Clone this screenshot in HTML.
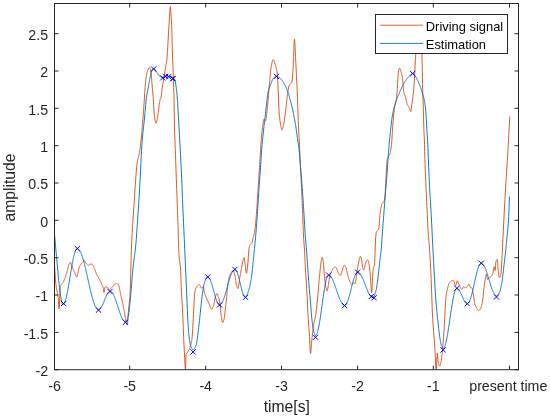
<!DOCTYPE html><html><head><meta charset="utf-8"><title>plot</title><style>html,body{margin:0;padding:0;background:#fff}svg{display:block}text{font-family:"Liberation Sans",sans-serif;fill:#262626}</style></head><body>
<svg width="550" height="418" viewBox="0 0 550 418">
<rect width="550" height="418" fill="#fff"/>
<defs><clipPath id="c"><rect x="54.5" y="3.5" width="464.0" height="366.2"/></clipPath></defs>
<g clip-path="url(#c)" fill="none" stroke-linejoin="round" stroke-linecap="butt">
<path stroke="#d95319" stroke-width="0.95" d="M54.50 264.00L54.70 267.43L54.90 270.76L55.10 273.93L55.30 276.90L55.50 279.62L55.70 282.04L55.90 284.11L56.00 285.00L56.10 285.81L56.30 287.23L56.50 288.45L56.70 289.52L56.90 290.49L57.10 291.40L57.30 292.30L57.50 293.26L57.70 294.31L57.90 295.51L58.10 296.91L58.20 297.70L58.30 298.72L58.50 301.62L58.70 304.87L58.90 307.51L59.10 308.60L59.10 308.60L59.30 306.90L59.50 302.87L59.70 298.13L59.80 296.00L59.90 293.69L60.10 288.57L60.25 286.50L60.30 286.32L60.50 285.74L60.70 285.36L60.90 285.08L61.10 284.84L61.20 284.70L61.30 284.56L61.50 284.30L61.70 284.07L61.90 283.86L62.10 283.66L62.30 283.46L62.50 283.25L62.70 283.01L62.90 282.75L63.00 282.60L63.10 282.44L63.30 282.10L63.50 281.71L63.70 281.30L63.90 280.86L64.10 280.39L64.30 279.90L64.50 279.39L64.70 278.87L64.90 278.34L65.10 277.80L65.10 277.80L65.30 277.23L65.50 276.63L65.70 275.99L65.90 275.32L66.10 274.63L66.30 273.93L66.50 273.22L66.70 272.52L66.90 271.82L67.10 271.13L67.20 270.80L67.30 270.46L67.50 269.76L67.70 269.04L67.90 268.30L68.10 267.56L68.30 266.83L68.50 266.14L68.70 265.48L68.90 264.88L69.10 264.35L69.30 263.90L69.30 263.90L69.50 263.48L69.70 263.06L69.90 262.68L70.10 262.39L70.30 262.22L70.40 262.20L70.50 262.24L70.70 262.56L70.90 263.09L71.10 263.72L71.30 264.33L71.40 264.60L71.50 264.85L71.70 265.37L71.90 265.89L72.10 266.42L72.30 266.95L72.50 267.47L72.70 267.98L72.75 268.10L72.90 268.47L73.10 268.96L73.30 269.45L73.50 269.93L73.70 270.40L73.90 270.87L74.10 271.34L74.30 271.79L74.50 272.24L74.70 272.68L74.80 272.90L74.90 273.12L75.10 273.61L75.30 274.13L75.50 274.66L75.70 275.19L75.90 275.69L76.10 276.14L76.30 276.53L76.50 276.83L76.70 277.03L76.90 277.10L76.90 277.10L77.10 276.87L77.30 276.26L77.50 275.42L77.70 274.49L77.90 273.60L77.90 273.60L78.10 272.66L78.30 271.56L78.50 270.41L78.70 269.33L78.90 268.44L79.00 268.10L79.10 267.81L79.30 267.26L79.50 266.75L79.70 266.29L79.90 265.86L80.10 265.47L80.30 265.11L80.50 264.77L80.70 264.46L80.90 264.17L81.10 263.90L81.10 263.90L81.30 263.65L81.50 263.43L81.70 263.22L81.90 263.04L82.10 262.86L82.30 262.69L82.50 262.51L82.70 262.33L82.90 262.13L83.10 261.92L83.20 261.80L83.30 261.66L83.50 261.32L83.70 260.93L83.90 260.57L84.10 260.30L84.30 260.20L84.30 260.20L84.50 260.33L84.70 260.65L84.90 261.08L85.10 261.52L85.25 261.80L85.30 261.88L85.50 262.22L85.70 262.57L85.90 262.92L86.10 263.25L86.30 263.54L86.50 263.80L86.60 263.90L86.70 264.00L86.90 264.19L87.10 264.38L87.30 264.56L87.50 264.73L87.70 264.89L87.90 265.03L88.10 265.14L88.30 265.23L88.50 265.28L88.70 265.30L88.70 265.30L88.90 265.25L89.10 265.10L89.30 264.90L89.50 264.66L89.70 264.42L89.90 264.19L90.10 264.02L90.30 263.91L90.40 263.90L90.50 263.90L90.70 263.93L90.90 263.97L91.10 264.03L91.30 264.11L91.50 264.20L91.70 264.30L91.90 264.42L92.10 264.54L92.20 264.60L92.30 264.67L92.50 264.87L92.70 265.13L92.90 265.44L93.10 265.78L93.30 266.14L93.50 266.51L93.60 266.70L93.70 266.89L93.90 267.32L94.10 267.79L94.30 268.29L94.50 268.81L94.70 269.34L94.90 269.85L95.00 270.10L95.10 270.35L95.30 270.86L95.50 271.37L95.70 271.88L95.90 272.39L96.10 272.89L96.30 273.37L96.40 273.60L96.50 273.83L96.70 274.27L96.90 274.71L97.10 275.13L97.30 275.55L97.50 275.94L97.70 276.31L97.75 276.40L97.90 276.66L98.10 276.98L98.30 277.27L98.50 277.57L98.70 277.86L98.90 278.17L99.10 278.50L99.10 278.50L99.30 278.85L99.50 279.22L99.70 279.60L99.90 279.99L100.10 280.40L100.30 280.82L100.50 281.25L100.50 281.25L100.70 281.70L100.90 282.18L101.10 282.67L101.30 283.18L101.50 283.69L101.70 284.20L101.90 284.70L101.90 284.70L102.10 285.17L102.30 285.60L102.50 286.02L102.70 286.46L102.90 286.95L103.10 287.52L103.30 288.20L103.30 288.20L103.50 289.41L103.70 291.02L103.90 292.21L104.00 292.40L104.10 292.20L104.30 290.92L104.50 289.27L104.70 288.20L104.70 288.20L104.90 287.75L105.10 287.37L105.30 287.07L105.50 286.87L105.70 286.80L105.70 286.80L105.90 286.81L106.10 286.84L106.30 286.90L106.50 286.97L106.70 287.05L106.90 287.15L107.10 287.26L107.30 287.38L107.50 287.50L107.50 287.50L107.70 287.71L107.90 288.05L108.10 288.45L108.30 288.87L108.50 289.24L108.70 289.50L108.90 289.60L108.90 289.60L109.10 289.58L109.30 289.51L109.50 289.41L109.70 289.29L109.90 289.15L110.10 289.01L110.25 288.90L110.30 288.86L110.50 288.69L110.70 288.49L110.90 288.26L111.10 288.03L111.30 287.80L111.50 287.59L111.60 287.50L111.70 287.41L111.90 287.25L112.10 287.10L112.30 286.96L112.50 286.82L112.70 286.66L112.90 286.49L113.00 286.40L113.10 286.30L113.30 286.06L113.50 285.79L113.70 285.51L113.90 285.24L114.10 284.99L114.30 284.78L114.40 284.70L114.50 284.62L114.70 284.47L114.90 284.32L115.10 284.18L115.30 284.05L115.50 283.92L115.70 283.82L115.90 283.73L116.10 283.66L116.30 283.62L116.50 283.60L116.50 283.60L116.70 283.61L116.90 283.62L117.10 283.65L117.30 283.69L117.50 283.74L117.70 283.80L117.90 283.87L118.10 283.95L118.20 284.00L118.30 284.09L118.50 284.48L118.70 285.10L118.90 285.86L119.10 286.68L119.30 287.50L119.30 287.50L119.50 288.37L119.70 289.36L119.90 290.43L120.10 291.53L120.30 292.59L120.40 293.10L120.50 293.59L120.70 294.58L120.90 295.56L121.10 296.52L121.30 297.45L121.40 297.90L121.50 298.34L121.70 299.18L121.90 299.98L122.10 300.77L122.30 301.57L122.50 302.40L122.70 303.27L122.75 303.50L122.90 304.22L123.10 305.24L123.30 306.30L123.50 307.38L123.70 308.46L123.90 309.50L124.00 310.00L124.10 310.50L124.30 311.56L124.50 312.69L124.70 313.87L124.90 315.07L125.10 316.28L125.30 317.49L125.50 318.67L125.70 319.80L125.90 320.87L126.10 321.85L126.30 322.74L126.50 323.50L126.70 324.13L126.90 324.60L127.10 324.90L127.30 325.00L127.30 325.00L127.50 324.20L127.70 322.10L127.90 319.17L128.10 315.87L128.30 312.66L128.50 310.00L128.50 310.00L128.70 307.95L128.90 306.17L129.10 304.52L129.30 302.86L129.50 301.05L129.70 298.96L129.90 296.46L130.00 295.00L130.10 293.18L130.30 288.06L130.50 281.44L130.70 273.89L130.90 265.99L131.10 258.32L131.30 251.47L131.50 246.00L131.50 246.00L131.70 241.69L131.90 237.82L132.10 234.29L132.30 230.97L132.50 227.75L132.70 224.50L132.70 224.50L132.90 221.26L133.10 218.11L133.30 215.05L133.50 212.05L133.70 209.09L133.90 206.15L134.10 203.22L134.30 200.27L134.50 197.30L134.50 197.30L134.70 194.24L134.90 191.10L135.10 187.94L135.30 184.82L135.50 181.79L135.70 178.91L135.90 176.24L136.00 175.00L136.10 173.80L136.30 171.40L136.50 169.07L136.70 166.88L136.90 164.89L137.10 163.18L137.30 161.80L137.30 161.80L137.50 160.71L137.70 159.80L137.90 159.01L138.10 158.31L138.30 157.64L138.50 156.98L138.70 156.26L138.90 155.45L139.10 154.50L139.10 154.50L139.30 153.42L139.50 152.25L139.70 150.98L139.90 149.64L140.10 148.21L140.30 146.71L140.50 145.14L140.70 143.50L140.90 141.80L140.90 141.80L141.10 139.99L141.30 138.04L141.50 135.95L141.70 133.75L141.90 131.46L142.10 129.11L142.30 126.70L142.50 124.25L142.70 121.80L142.70 121.80L142.90 119.29L143.10 116.69L143.30 114.00L143.50 111.25L143.70 108.46L143.90 105.64L144.10 102.82L144.30 100.00L144.30 100.00L144.50 97.01L144.70 93.80L144.90 90.56L145.10 87.50L145.30 84.81L145.50 82.70L145.50 82.70L145.70 81.00L145.90 79.42L146.10 77.95L146.30 76.60L146.50 75.38L146.70 74.28L146.90 73.32L147.10 72.49L147.30 71.80L147.30 71.80L147.50 71.18L147.70 70.58L147.90 70.00L148.10 69.45L148.30 68.95L148.50 68.51L148.70 68.13L148.90 67.83L149.10 67.62L149.30 67.51L149.40 67.50L149.50 67.53L149.70 67.73L149.90 68.11L150.10 68.64L150.30 69.30L150.50 70.06L150.70 70.90L150.90 71.80L150.90 71.80L151.10 73.05L151.30 74.87L151.50 77.11L151.70 79.62L151.90 82.26L152.10 84.86L152.30 87.30L152.30 87.30L152.50 89.60L152.70 91.91L152.90 94.28L153.10 96.73L153.20 98.00L153.30 99.36L153.50 102.40L153.70 105.67L153.90 108.95L154.10 111.99L154.30 114.56L154.50 116.40L154.50 116.40L154.70 117.79L154.90 119.12L155.10 120.35L155.30 121.42L155.50 122.29L155.70 122.92L155.90 123.26L156.00 123.30L156.10 123.26L156.30 122.97L156.50 122.41L156.70 121.64L156.90 120.68L157.10 119.58L157.30 118.38L157.50 117.11L157.70 115.81L157.90 114.53L158.10 113.29L158.20 112.70L158.30 112.09L158.50 110.69L158.70 109.12L158.90 107.46L159.10 105.77L159.30 104.14L159.50 102.65L159.70 101.37L159.90 100.37L160.00 100.00L160.10 99.71L160.30 99.28L160.50 98.93L160.70 98.54L160.90 98.00L160.90 98.00L161.10 97.09L161.30 95.76L161.50 94.14L161.70 92.36L161.90 90.54L162.10 88.81L162.30 87.30L162.30 87.30L162.50 85.97L162.70 84.70L162.90 83.47L163.10 82.27L163.30 81.10L163.50 79.94L163.70 78.77L163.90 77.60L164.10 76.40L164.10 76.40L164.30 75.19L164.50 73.98L164.70 72.77L164.90 71.56L165.10 70.35L165.30 69.14L165.50 67.93L165.70 66.72L165.90 65.50L165.90 65.50L166.10 64.36L166.30 63.28L166.50 62.13L166.70 60.79L166.80 60.00L166.90 59.07L167.10 56.73L167.30 54.01L167.40 52.60L167.50 51.14L167.70 47.93L167.90 44.45L168.10 40.79L168.30 37.04L168.50 33.31L168.70 29.70L168.90 26.30L168.90 26.30L169.10 23.06L169.30 19.88L169.50 16.84L169.70 14.00L169.70 14.00L169.90 10.87L170.10 7.91L170.30 6.60L170.30 6.60L170.50 7.69L170.70 10.20L170.90 13.00L170.90 13.00L171.10 15.66L171.30 18.63L171.50 22.11L171.70 26.30L171.70 26.30L171.90 32.48L172.10 40.52L172.30 48.57L172.40 52.00L172.50 55.01L172.70 60.48L172.90 65.60L173.10 70.82L173.20 73.60L173.30 76.39L173.50 81.80L173.70 87.49L173.90 94.13L174.00 98.00L174.10 103.02L174.30 115.96L174.50 127.00L174.50 127.00L174.70 133.90L174.90 139.48L175.10 144.36L175.30 149.16L175.50 154.50L175.50 154.50L175.70 160.57L175.90 166.88L176.10 173.07L176.20 176.00L176.30 178.81L176.50 184.20L176.70 189.42L176.90 194.64L177.00 197.30L177.10 199.96L177.30 205.16L177.50 210.35L177.70 215.72L177.90 221.45L178.00 224.50L178.10 227.90L178.30 235.65L178.50 243.04L178.60 246.00L178.70 248.55L178.90 253.21L179.10 256.89L179.20 258.20L179.30 259.21L179.50 260.77L179.70 261.92L179.90 262.89L180.10 263.95L180.30 265.33L180.50 267.30L180.50 267.30L180.70 271.22L180.90 277.08L181.10 283.05L181.20 285.50L181.30 287.58L181.50 291.35L181.70 294.81L181.90 298.19L182.10 301.71L182.20 303.60L182.30 305.56L182.50 309.55L182.70 313.74L182.90 318.20L182.90 318.20L183.10 323.24L183.30 328.70L183.50 334.00L183.60 336.40L183.70 338.65L183.90 342.96L184.10 347.04L184.30 350.88L184.50 354.50L184.50 354.50L184.70 358.36L184.90 362.48L185.10 366.23L185.30 368.95L185.50 370.00L185.50 370.00L185.70 364.69L185.90 356.31L186.00 354.50L186.10 354.22L186.30 353.80L186.50 353.52L186.70 353.32L186.90 353.15L187.10 352.96L187.30 352.70L187.30 352.70L187.50 352.38L187.70 352.05L187.90 351.72L188.10 351.38L188.30 351.03L188.50 350.67L188.70 350.29L188.90 349.89L189.10 349.48L189.30 349.04L189.50 348.58L189.70 348.09L189.90 347.57L190.00 347.30L190.10 347.02L190.30 346.46L190.50 345.86L190.70 345.20L190.90 344.48L191.10 343.68L191.30 342.78L191.50 341.77L191.70 340.63L191.80 340.00L191.90 339.26L192.10 337.29L192.30 334.77L192.50 331.81L192.70 328.55L192.90 325.11L193.10 321.62L193.30 318.20L193.30 318.20L193.50 314.69L193.70 310.92L193.90 306.99L194.00 305.00L194.10 302.75L194.30 297.77L194.50 294.50L194.50 294.50L194.70 293.12L194.90 291.94L195.10 290.93L195.30 290.08L195.50 289.37L195.70 288.77L195.90 288.27L196.10 287.84L196.30 287.47L196.40 287.30L196.50 287.13L196.70 286.80L196.90 286.49L197.10 286.19L197.30 285.90L197.50 285.63L197.70 285.39L197.90 285.17L198.10 284.98L198.30 284.81L198.50 284.68L198.70 284.58L198.90 284.52L199.10 284.50L199.10 284.50L199.30 284.56L199.50 284.72L199.70 284.97L199.90 285.28L200.10 285.65L200.30 286.04L200.50 286.45L200.70 286.86L200.90 287.24L201.10 287.58L201.30 287.87L201.50 288.07L201.70 288.19L201.80 288.20L201.90 288.18L202.10 288.02L202.30 287.77L202.50 287.48L202.70 287.19L202.90 286.98L203.10 286.90L203.10 286.90L203.30 287.14L203.50 287.79L203.70 288.71L203.90 289.79L204.10 290.90L204.30 291.91L204.50 292.70L204.50 292.70L204.70 293.33L204.90 293.93L205.10 294.51L205.30 295.07L205.50 295.61L205.70 296.12L205.90 296.63L206.10 297.12L206.30 297.59L206.50 298.05L206.70 298.51L206.90 298.95L207.10 299.40L207.30 299.83L207.50 300.27L207.70 300.70L207.90 301.14L208.10 301.58L208.20 301.80L208.30 302.03L208.50 302.50L208.70 303.01L208.90 303.53L209.10 304.07L209.30 304.61L209.50 305.15L209.70 305.68L209.90 306.20L210.10 306.70L210.30 307.16L210.50 307.60L210.70 307.99L210.90 308.33L211.10 308.62L211.30 308.85L211.50 309.01L211.70 309.09L211.80 309.10L211.90 309.08L212.10 308.95L212.30 308.70L212.50 308.36L212.70 307.93L212.90 307.44L213.10 306.91L213.30 306.35L213.50 305.78L213.60 305.50L213.70 305.19L213.90 304.40L214.10 303.45L214.30 302.37L214.50 301.23L214.70 300.07L214.90 298.96L215.10 297.94L215.30 297.07L215.50 296.40L215.50 296.40L215.70 295.84L215.90 295.28L216.10 294.76L216.30 294.30L216.50 293.93L216.70 293.69L216.90 293.60L216.90 293.60L217.10 293.71L217.30 294.00L217.50 294.43L217.70 294.95L217.90 295.53L218.10 296.12L218.20 296.40L218.30 296.68L218.50 297.26L218.70 297.89L218.90 298.57L219.10 299.31L219.30 300.12L219.50 301.00L219.70 301.97L219.90 303.03L220.00 303.60L220.10 304.27L220.30 306.03L220.50 308.19L220.70 310.53L220.90 312.82L221.10 314.85L221.30 316.40L221.30 316.40L221.50 317.66L221.70 318.92L221.90 320.10L222.10 321.13L222.30 321.96L222.50 322.50L222.70 322.70L222.70 322.70L222.90 322.58L223.10 322.26L223.30 321.76L223.50 321.12L223.70 320.36L223.90 319.53L224.10 318.65L224.20 318.20L224.30 317.69L224.50 316.37L224.70 314.73L224.90 312.89L225.10 310.96L225.30 309.06L225.50 307.30L225.50 307.30L225.70 305.71L225.90 304.17L226.10 302.60L226.30 300.91L226.40 300.00L226.50 298.99L226.70 296.63L226.90 294.00L227.10 291.31L227.30 288.77L227.50 286.60L227.70 285.00L227.70 285.00L227.90 283.80L228.10 282.67L228.30 281.62L228.50 280.63L228.70 279.72L228.90 278.86L229.10 278.07L229.30 277.35L229.50 276.67L229.70 276.06L229.90 275.49L230.10 274.98L230.30 274.52L230.50 274.10L230.50 274.10L230.70 273.70L230.90 273.31L231.10 272.93L231.30 272.55L231.50 272.20L231.70 271.87L231.90 271.56L232.10 271.28L232.30 271.04L232.50 270.83L232.70 270.68L232.90 270.56L233.10 270.51L233.20 270.50L233.30 270.53L233.50 270.73L233.70 271.12L233.90 271.65L234.10 272.30L234.30 273.04L234.50 273.84L234.70 274.66L234.90 275.49L235.00 275.90L235.10 276.34L235.30 277.45L235.50 278.78L235.70 280.25L235.90 281.76L236.10 283.23L236.30 284.58L236.50 285.71L236.70 286.53L236.80 286.80L236.90 287.02L237.10 287.43L237.30 287.81L237.50 288.13L237.70 288.38L237.90 288.54L238.10 288.60L238.10 288.60L238.30 288.25L238.50 287.30L238.70 285.92L238.90 284.28L239.10 282.55L239.30 280.90L239.50 279.50L239.50 279.50L239.70 278.27L239.90 277.05L240.10 275.83L240.30 274.62L240.50 273.44L240.70 272.29L240.90 271.17L241.10 270.10L241.30 269.09L241.40 268.60L241.50 268.11L241.70 267.09L241.90 266.03L242.10 264.94L242.30 263.86L242.50 262.80L242.70 261.78L242.90 260.83L243.10 259.96L243.30 259.21L243.50 258.58L243.70 258.11L243.90 257.80L244.10 257.70L244.10 257.70L244.30 258.11L244.50 259.21L244.70 260.78L244.90 262.60L245.10 264.44L245.30 266.11L245.40 266.80L245.50 267.47L245.70 268.97L245.90 270.51L246.10 271.86L246.30 272.83L246.50 273.20L246.50 273.20L246.70 272.84L246.90 271.86L247.10 270.42L247.30 268.70L247.50 266.83L247.70 265.00L247.70 265.00L247.90 262.82L248.10 260.02L248.30 256.94L248.50 253.90L248.70 251.22L248.90 249.23L249.00 248.60L249.10 248.12L249.30 247.24L249.50 246.46L249.70 245.78L249.90 245.20L250.10 244.73L250.30 244.36L250.50 244.10L250.50 244.10L250.70 243.92L250.90 243.80L251.10 243.71L251.30 243.62L251.50 243.52L251.70 243.39L251.90 243.20L251.90 243.20L252.10 242.80L252.30 242.10L252.50 241.20L252.70 240.18L252.90 239.13L253.10 238.14L253.20 237.70L253.30 237.29L253.50 236.51L253.70 235.76L253.90 235.00L254.10 234.19L254.30 233.30L254.50 232.30L254.50 232.30L254.70 231.14L254.90 229.82L255.10 228.35L255.30 226.74L255.50 225.00L255.50 225.00L255.70 223.03L255.90 220.79L256.10 218.35L256.30 215.80L256.40 214.50L256.50 213.18L256.70 210.41L256.90 207.50L257.10 204.49L257.30 201.39L257.50 198.24L257.70 195.08L257.90 191.93L258.10 188.83L258.20 187.30L258.30 185.79L258.50 182.79L258.70 179.80L258.90 176.82L259.10 173.82L259.30 170.79L259.50 167.72L259.70 164.59L259.80 163.00L259.90 161.35L260.10 157.85L260.30 154.22L260.50 150.66L260.70 147.36L260.90 144.50L260.90 144.50L261.10 141.99L261.30 139.60L261.50 137.33L261.70 135.18L261.90 133.16L262.10 131.27L262.30 129.51L262.50 127.89L262.70 126.40L262.70 126.40L262.90 124.92L263.10 123.39L263.30 121.94L263.50 120.67L263.70 119.71L263.90 119.17L264.00 119.10L264.10 119.12L264.30 119.29L264.50 119.57L264.70 119.91L264.90 120.27L265.10 120.58L265.30 120.81L265.50 120.90L265.50 120.90L265.70 120.59L265.90 119.73L266.10 118.47L266.30 116.91L266.50 115.20L266.70 113.45L266.90 111.80L266.90 111.80L267.10 110.16L267.30 108.37L267.50 106.46L267.70 104.44L267.90 102.35L268.10 100.19L268.20 99.10L268.30 97.96L268.50 95.52L268.70 92.96L268.90 90.41L269.10 88.00L269.10 88.00L269.30 85.67L269.50 83.27L269.70 80.88L269.90 78.52L270.10 76.25L270.30 74.13L270.50 72.20L270.70 70.50L270.90 69.10L270.90 69.10L271.10 67.85L271.30 66.61L271.50 65.40L271.70 64.23L271.90 63.15L272.10 62.17L272.30 61.31L272.50 60.60L272.70 60.06L272.90 59.72L273.10 59.60L273.10 59.60L273.30 59.66L273.50 59.85L273.70 60.14L273.90 60.53L274.10 61.00L274.30 61.54L274.50 62.14L274.70 62.78L274.90 63.45L275.10 64.13L275.30 64.82L275.50 65.50L275.50 65.50L275.70 66.17L275.90 66.87L276.10 67.62L276.30 68.44L276.50 69.35L276.70 70.39L276.90 71.58L277.10 72.94L277.30 74.50L277.30 74.50L277.50 76.82L277.70 80.21L277.90 84.29L278.10 88.68L278.30 93.00L278.30 93.00L278.50 97.79L278.70 103.19L278.90 108.20L279.10 111.80L279.10 111.80L279.30 114.23L279.50 116.40L279.70 118.33L279.90 120.04L280.10 121.58L280.30 122.95L280.50 124.20L280.70 125.34L280.90 126.40L280.90 126.40L281.10 127.48L281.30 128.54L281.50 129.41L281.70 129.93L281.80 130.00L281.90 129.97L282.10 129.77L282.30 129.38L282.50 128.85L282.70 128.19L282.90 127.44L283.10 126.63L283.30 125.78L283.50 124.92L283.60 124.50L283.70 124.06L283.90 123.07L284.10 121.94L284.30 120.69L284.50 119.35L284.70 117.92L284.90 116.44L285.10 114.91L285.30 113.36L285.50 111.80L285.50 111.80L285.70 110.16L285.90 108.37L286.10 106.49L286.30 104.57L286.50 102.66L286.70 100.82L286.90 99.10L286.90 99.10L287.10 97.46L287.30 95.87L287.50 94.36L287.70 93.00L287.70 93.00L287.90 91.70L288.10 90.38L288.30 89.11L288.50 87.94L288.70 86.91L288.90 86.08L289.10 85.50L289.10 85.50L289.30 85.10L289.50 84.76L289.70 84.46L289.90 84.21L290.10 83.99L290.30 83.79L290.50 83.60L290.50 83.60L290.70 83.45L290.90 83.34L291.10 83.25L291.30 83.15L291.50 83.01L291.70 82.82L291.80 82.70L291.90 82.44L292.10 81.23L292.30 79.33L292.50 77.01L292.70 74.50L292.70 74.50L292.90 71.38L293.10 67.35L293.30 62.88L293.50 58.45L293.60 56.40L293.70 54.25L293.90 49.29L294.10 44.37L294.30 40.60L294.50 39.10L294.50 39.10L294.70 40.30L294.90 43.40L295.10 47.63L295.30 52.22L295.50 56.40L295.50 56.40L295.70 60.23L295.90 64.24L296.10 68.34L296.30 72.46L296.40 74.50L296.50 76.49L296.70 80.34L296.90 84.21L297.10 88.35L297.30 93.00L297.30 93.00L297.50 98.80L297.70 105.22L297.80 108.20L297.90 111.01L298.10 116.54L298.30 121.74L298.50 126.40L298.50 126.40L298.70 130.39L298.90 133.92L299.10 137.26L299.30 140.70L299.50 144.50L299.50 144.50L299.70 148.87L299.90 153.62L300.10 158.43L300.30 163.00L300.30 163.00L300.50 167.22L300.70 171.25L300.90 175.19L301.10 179.13L301.30 183.13L301.50 187.30L301.50 187.30L301.70 191.60L301.90 195.96L302.10 200.40L302.30 204.95L302.50 209.64L302.70 214.50L302.70 214.50L302.90 219.94L303.10 225.86L303.30 231.47L303.50 236.00L303.50 236.00L303.70 239.31L303.90 242.03L304.10 244.49L304.30 247.03L304.50 250.00L304.50 250.00L304.70 253.63L304.90 257.74L305.10 262.03L305.30 266.21L305.50 270.00L305.50 270.00L305.70 273.31L305.90 276.36L306.10 279.31L306.30 282.30L306.50 285.50L306.50 285.50L306.70 288.93L306.90 292.52L307.10 296.21L307.30 300.00L307.30 300.00L307.50 304.03L307.70 308.29L307.90 312.52L308.10 316.44L308.20 318.20L308.30 319.82L308.50 322.80L308.70 325.54L308.90 328.15L309.10 330.74L309.30 333.46L309.50 336.40L309.50 336.40L309.70 340.17L309.90 344.69L310.10 349.03L310.30 352.31L310.50 353.60L310.50 353.60L310.70 352.97L310.90 351.31L311.10 348.95L311.30 346.22L311.50 343.47L311.70 341.01L311.80 340.00L311.90 339.09L312.10 337.29L312.30 335.52L312.50 333.81L312.70 332.15L312.90 330.54L313.10 329.01L313.30 327.54L313.50 326.16L313.60 325.50L313.70 324.87L313.90 323.69L314.10 322.60L314.30 321.59L314.50 320.62L314.70 319.68L314.90 318.75L315.10 317.80L315.30 316.81L315.50 315.75L315.70 314.61L315.90 313.37L316.00 312.70L316.10 311.99L316.30 310.45L316.50 308.77L316.70 306.97L316.90 305.08L317.10 303.11L317.30 301.09L317.50 299.05L317.70 297.00L317.70 297.00L317.90 294.87L318.10 292.61L318.30 290.25L318.50 287.83L318.70 285.41L318.90 283.01L319.10 280.68L319.30 278.46L319.50 276.40L319.50 276.40L319.70 274.39L319.90 272.35L320.10 270.30L320.30 268.30L320.50 266.39L320.70 264.61L320.90 263.00L321.10 261.60L321.30 260.46L321.40 260.00L321.50 259.57L321.70 258.74L321.90 258.01L322.10 257.50L322.30 257.30L322.30 257.30L322.50 257.63L322.70 258.51L322.90 259.73L323.10 261.11L323.20 261.80L323.30 262.56L323.50 264.48L323.70 266.81L323.90 269.35L324.10 271.91L324.30 274.33L324.50 276.40L324.50 276.40L324.70 278.26L324.90 280.11L325.10 281.90L325.30 283.57L325.50 285.06L325.70 286.33L325.90 287.30L325.90 287.30L326.10 288.11L326.30 288.89L326.50 289.60L326.70 290.19L326.90 290.63L327.10 290.87L327.20 290.90L327.30 290.82L327.50 290.24L327.70 289.24L327.90 288.00L328.10 286.70L328.30 285.50L328.30 285.50L328.50 284.33L328.70 283.04L328.90 281.70L329.10 280.40L329.30 279.21L329.50 278.20L329.50 278.20L329.70 277.34L329.90 276.53L330.10 275.77L330.30 275.05L330.50 274.38L330.70 273.74L330.90 273.15L331.10 272.58L331.30 272.05L331.40 271.80L331.50 271.55L331.70 271.05L331.90 270.56L332.10 270.09L332.30 269.65L332.50 269.24L332.70 268.87L332.90 268.56L333.10 268.30L333.20 268.20L333.30 268.11L333.50 267.93L333.70 267.75L333.90 267.59L334.10 267.43L334.30 267.29L334.50 267.17L334.70 267.07L334.90 266.99L335.10 266.93L335.30 266.90L335.40 266.90L335.50 266.92L335.70 267.06L335.90 267.32L336.10 267.67L336.30 268.06L336.50 268.49L336.70 268.90L336.80 269.10L336.90 269.30L337.10 269.77L337.30 270.30L337.50 270.87L337.70 271.46L337.90 272.03L338.10 272.57L338.30 273.05L338.50 273.44L338.60 273.60L338.70 273.74L338.90 274.03L339.10 274.31L339.30 274.58L339.50 274.83L339.70 275.05L339.90 275.24L340.10 275.38L340.30 275.47L340.50 275.50L340.50 275.50L340.70 275.36L340.90 274.99L341.10 274.45L341.30 273.79L341.50 273.09L341.70 272.41L341.90 271.80L341.90 271.80L342.10 271.20L342.30 270.52L342.50 269.78L342.70 269.02L342.90 268.26L343.10 267.54L343.30 266.89L343.50 266.32L343.70 265.89L343.90 265.60L344.10 265.50L344.10 265.50L344.30 265.52L344.50 265.59L344.70 265.69L344.90 265.83L345.10 266.00L345.30 266.19L345.50 266.40L345.50 266.40L345.70 266.75L345.90 267.31L346.10 268.03L346.30 268.84L346.50 269.69L346.70 270.52L346.80 270.90L346.90 271.28L347.10 272.09L347.30 272.95L347.50 273.83L347.70 274.71L347.90 275.58L348.10 276.41L348.30 277.19L348.50 277.89L348.60 278.20L348.70 278.50L348.90 279.08L349.10 279.65L349.30 280.19L349.50 280.71L349.70 281.19L349.90 281.63L350.10 282.04L350.30 282.39L350.50 282.70L350.50 282.70L350.70 282.98L350.90 283.27L351.10 283.54L351.30 283.80L351.50 284.03L351.70 284.22L351.90 284.37L352.10 284.47L352.30 284.50L352.30 284.50L352.50 284.37L352.70 284.03L352.90 283.60L353.10 283.17L353.30 282.83L353.50 282.70L353.50 282.70L353.70 282.74L353.90 282.86L354.10 283.02L354.30 283.19L354.50 283.37L354.70 283.51L354.90 283.59L355.00 283.60L355.10 283.55L355.30 283.14L355.50 282.39L355.70 281.39L355.90 280.21L356.10 278.94L356.30 277.64L356.50 276.40L356.50 276.40L356.70 275.07L356.90 273.52L357.10 271.86L357.30 270.19L357.50 268.64L357.70 267.30L357.70 267.30L357.90 266.13L358.10 265.01L358.30 263.94L358.50 262.94L358.70 262.01L358.90 261.15L359.10 260.36L359.20 260.00L359.30 259.64L359.50 258.89L359.70 258.15L359.90 257.47L360.10 256.91L360.30 256.54L360.50 256.40L360.50 256.40L360.70 256.54L360.90 256.94L361.10 257.53L361.30 258.27L361.50 259.11L361.70 260.00L361.70 260.00L361.90 261.33L362.10 263.22L362.30 265.19L362.50 266.79L362.60 267.30L362.70 267.68L362.90 268.40L363.10 269.04L363.30 269.54L363.50 269.88L363.70 270.00L363.70 270.00L363.90 269.80L364.10 269.26L364.30 268.49L364.50 267.60L364.70 266.69L364.90 265.85L365.00 265.50L365.10 265.17L365.30 264.45L365.50 263.71L365.70 262.99L365.90 262.30L366.10 261.71L366.30 261.23L366.50 260.90L366.50 260.90L366.70 260.67L366.90 260.46L367.10 260.27L367.30 260.13L367.50 260.03L367.70 260.00L367.70 260.00L367.90 260.12L368.10 260.45L368.30 260.96L368.50 261.61L368.70 262.36L368.90 263.18L369.00 263.60L369.10 264.09L369.30 265.39L369.50 267.04L369.70 268.92L369.90 270.90L369.90 270.90L370.10 273.17L370.30 275.84L370.50 278.72L370.70 281.61L370.90 284.29L371.00 285.50L371.10 286.74L371.30 289.46L371.50 291.74L371.70 292.70L371.70 292.70L371.90 291.09L372.10 287.18L372.30 282.36L372.50 277.98L372.60 276.40L372.70 275.09L372.90 272.52L373.10 270.20L373.30 268.37L373.50 267.30L373.50 267.30L373.70 266.83L373.90 266.57L374.10 266.37L374.30 266.06L374.50 265.50L374.50 265.50L374.70 262.56L374.90 257.19L375.00 254.50L375.10 251.62L375.30 244.95L375.50 240.00L375.50 240.00L375.70 237.28L375.90 235.01L376.10 233.27L376.30 232.12L376.40 231.80L376.50 231.58L376.70 231.22L376.90 230.95L377.10 230.75L377.30 230.59L377.50 230.47L377.70 230.35L377.90 230.21L378.10 230.04L378.30 229.81L378.50 229.50L378.70 229.10L378.70 229.10L378.90 228.04L379.10 226.01L379.30 223.37L379.50 220.48L379.70 217.70L379.90 215.37L380.00 214.50L380.10 213.75L380.30 212.29L380.50 210.91L380.70 209.60L380.90 208.39L381.10 207.30L381.30 206.32L381.50 205.48L381.70 204.79L381.80 204.50L381.90 204.25L382.10 203.81L382.30 203.46L382.50 203.16L382.70 202.92L382.90 202.70L383.10 202.50L383.30 202.29L383.50 202.06L383.70 201.79L383.90 201.47L384.10 201.07L384.30 200.59L384.50 200.00L384.50 200.00L384.70 198.84L384.90 196.79L385.10 194.03L385.30 190.77L385.50 187.20L385.70 183.52L385.90 179.91L386.00 178.20L386.10 176.39L386.30 172.19L386.50 167.89L386.70 164.29L386.80 163.00L386.90 161.97L387.10 160.23L387.30 159.10L387.30 159.10L387.50 158.42L387.70 157.85L387.90 157.38L388.10 156.99L388.30 156.66L388.50 156.37L388.70 156.11L388.90 155.84L389.10 155.56L389.30 155.25L389.50 154.88L389.70 154.44L389.90 153.91L390.00 153.60L390.10 153.26L390.30 152.46L390.50 151.51L390.70 150.40L390.90 149.14L391.10 147.74L391.30 146.19L391.50 144.50L391.50 144.50L391.70 142.28L391.90 139.33L392.10 135.97L392.30 132.49L392.50 129.20L392.70 126.40L392.70 126.40L392.90 123.97L393.10 121.59L393.30 119.28L393.50 117.07L393.70 114.98L393.90 113.02L394.10 111.23L394.30 109.61L394.50 108.20L394.50 108.20L394.70 107.01L394.90 106.01L395.10 105.14L395.30 104.36L395.50 103.61L395.70 102.83L395.90 101.96L396.10 100.97L396.30 99.78L396.40 99.10L396.50 98.31L396.70 96.34L396.90 93.97L397.10 91.35L397.20 90.00L397.30 88.52L397.50 85.20L397.60 83.60L397.70 82.01L397.90 78.58L398.10 75.23L398.30 72.50L398.50 70.90L398.50 70.90L398.70 70.09L398.90 69.39L399.10 68.84L399.30 68.44L399.50 68.23L399.60 68.20L399.70 68.23L399.90 68.42L400.10 68.77L400.30 69.26L400.50 69.85L400.70 70.52L400.90 71.24L401.10 71.98L401.30 72.70L401.30 72.70L401.50 73.44L401.70 74.26L401.90 75.16L402.10 76.17L402.30 77.31L402.50 78.58L402.70 80.00L402.70 80.00L402.90 82.11L403.10 84.96L403.30 87.90L403.50 90.25L403.60 91.00L403.70 91.53L403.90 92.47L404.10 93.25L404.30 93.91L404.50 94.48L404.70 95.01L404.90 95.52L405.10 96.05L405.30 96.63L405.50 97.30L405.50 97.30L405.70 98.08L405.90 98.93L406.10 99.84L406.30 100.76L406.50 101.66L406.70 102.52L406.90 103.30L407.10 103.97L407.30 104.50L407.30 104.50L407.50 104.91L407.70 105.27L407.90 105.57L408.10 105.85L408.30 106.11L408.50 106.37L408.70 106.65L408.90 106.95L409.10 107.30L409.10 107.30L409.30 107.74L409.50 108.28L409.70 108.89L409.90 109.51L410.10 110.12L410.30 110.66L410.50 111.10L410.70 111.39L410.90 111.50L410.90 111.50L411.10 110.87L411.30 109.31L411.50 107.30L411.70 105.32L411.80 104.50L411.90 103.78L412.10 102.43L412.30 101.14L412.50 99.86L412.70 98.53L412.90 97.10L413.10 95.50L413.10 95.50L413.30 93.75L413.50 91.86L413.70 89.80L413.90 87.52L414.10 84.98L414.20 83.60L414.30 82.04L414.50 78.24L414.70 73.91L414.90 69.51L415.10 65.50L415.10 65.50L415.30 61.93L415.50 58.53L415.70 55.23L415.80 53.60L415.90 51.93L416.10 48.42L416.30 44.86L416.50 41.45L416.70 38.42L416.90 35.95L417.00 35.00L417.10 34.16L417.30 32.50L417.50 30.91L417.70 29.43L417.90 28.10L418.10 26.96L418.30 26.04L418.50 25.39L418.70 25.04L418.80 25.00L418.90 25.04L419.10 25.39L419.30 26.04L419.50 26.96L419.70 28.10L419.90 29.43L420.10 30.91L420.30 32.50L420.50 34.16L420.60 35.00L420.70 35.91L420.90 38.12L421.10 40.82L421.30 43.97L421.50 47.54L421.70 51.49L421.80 53.60L421.90 55.91L422.10 61.77L422.20 65.50L422.30 71.08L422.50 83.60L422.50 83.60L422.70 90.11L422.80 93.00L422.90 96.03L423.10 101.95L423.30 108.20L423.30 108.20L423.50 115.53L423.70 123.08L423.80 126.40L423.90 129.27L424.10 134.26L424.30 139.02L424.50 144.50L424.50 144.50L424.70 151.78L424.90 159.65L425.00 163.00L425.10 165.91L425.30 171.24L425.50 176.08L425.70 180.63L425.90 185.06L426.00 187.30L426.10 189.53L426.30 193.83L426.50 197.99L426.70 202.08L426.90 206.14L427.10 210.26L427.30 214.50L427.30 214.50L427.50 219.13L427.70 223.93L427.90 228.24L428.00 230.00L428.10 231.51L428.30 234.14L428.50 236.41L428.70 238.54L428.90 240.73L429.10 243.20L429.10 243.20L429.30 245.92L429.50 248.75L429.70 251.70L429.90 254.78L430.10 258.01L430.30 261.40L430.30 261.40L430.50 264.96L430.70 268.72L430.90 272.75L431.10 277.15L431.20 279.50L431.30 282.08L431.50 287.95L431.70 294.09L431.80 297.00L431.90 299.87L432.10 305.70L432.30 311.00L432.40 313.20L432.50 315.13L432.70 318.61L432.90 321.69L433.10 324.52L433.30 327.23L433.50 329.97L433.60 331.40L433.70 332.84L433.90 335.64L434.10 338.37L434.30 341.09L434.50 343.82L434.70 346.61L434.90 349.50L434.90 349.50L435.10 352.92L435.30 356.96L435.50 361.14L435.70 364.99L435.90 368.02L436.10 369.76L436.20 370.00L436.30 369.61L436.50 366.93L436.70 362.74L436.90 358.25L437.10 354.66L437.30 353.20L437.30 353.20L437.50 354.20L437.70 356.57L437.90 359.37L438.10 361.65L438.20 362.30L438.30 362.72L438.50 363.52L438.70 364.23L438.90 364.85L439.10 365.34L439.30 365.69L439.50 365.88L439.60 365.90L439.70 365.87L439.90 365.62L440.10 365.18L440.30 364.58L440.50 363.87L440.70 363.10L440.90 362.30L440.90 362.30L441.10 361.38L441.30 360.23L441.50 358.89L441.70 357.39L441.90 355.78L442.10 354.07L442.20 353.20L442.30 352.29L442.50 350.27L442.70 348.03L442.90 345.62L443.10 343.10L443.30 340.50L443.30 340.50L443.50 337.82L443.70 335.01L443.90 332.06L444.10 328.96L444.30 325.71L444.50 322.30L444.50 322.30L444.70 318.39L444.90 313.99L445.10 309.59L445.30 305.70L445.40 304.10L445.50 302.68L445.70 300.01L445.90 297.67L446.10 295.76L446.20 295.00L446.30 294.34L446.50 293.18L446.70 292.19L446.90 291.32L447.10 290.51L447.30 289.70L447.30 289.70L447.50 288.87L447.70 288.02L447.90 287.19L448.10 286.38L448.30 285.61L448.50 284.92L448.70 284.30L448.90 283.79L449.10 283.40L449.10 283.40L449.30 283.08L449.50 282.77L449.70 282.47L449.90 282.19L450.10 281.92L450.30 281.68L450.50 281.45L450.70 281.25L450.90 281.08L451.10 280.93L451.30 280.82L451.50 280.74L451.70 280.71L451.80 280.70L451.90 280.70L452.10 280.70L452.30 280.70L452.50 280.70L452.70 280.70L452.90 280.70L453.10 280.70L453.30 280.70L453.50 280.70L453.60 280.70L453.70 280.74L453.90 281.05L454.10 281.59L454.30 282.30L454.50 283.09L454.70 283.91L454.90 284.67L455.10 285.31L455.30 285.74L455.50 285.90L455.50 285.90L455.70 285.72L455.90 285.24L456.10 284.55L456.30 283.73L456.50 282.87L456.70 282.05L456.90 281.36L457.10 280.88L457.30 280.70L457.30 280.70L457.50 280.84L457.70 281.20L457.90 281.71L458.10 282.30L458.30 282.89L458.50 283.40L458.50 283.40L458.70 283.86L458.90 284.34L459.10 284.83L459.30 285.31L459.50 285.77L459.70 286.21L459.90 286.62L460.00 286.80L460.10 286.98L460.30 287.36L460.50 287.75L460.70 288.14L460.90 288.50L461.10 288.82L461.30 289.09L461.50 289.28L461.70 289.39L461.80 289.40L461.90 289.38L462.10 289.21L462.30 288.91L462.50 288.53L462.70 288.10L462.90 287.67L463.10 287.29L463.30 286.99L463.50 286.82L463.60 286.80L463.70 286.81L463.90 286.86L464.10 286.95L464.30 287.08L464.50 287.21L464.70 287.36L464.90 287.49L465.10 287.60L465.30 287.67L465.50 287.70L465.50 287.70L465.70 287.68L465.90 287.64L466.10 287.57L466.30 287.47L466.50 287.36L466.70 287.23L466.90 287.09L467.10 286.95L467.30 286.80L467.30 286.80L467.50 286.59L467.70 286.29L467.90 285.93L468.10 285.53L468.30 285.14L468.50 284.78L468.70 284.48L468.90 284.27L469.10 284.20L469.10 284.20L469.30 284.39L469.50 284.89L469.70 285.58L469.90 286.32L470.10 287.01L470.30 287.51L470.50 287.70L470.50 287.70L470.70 287.70L470.90 287.70L471.10 287.70L471.30 287.70L471.50 287.70L471.70 287.70L471.80 287.70L471.90 287.75L472.10 288.13L472.30 288.80L472.50 289.68L472.70 290.70L472.90 291.77L473.10 292.80L473.10 292.80L473.30 293.95L473.50 295.36L473.70 296.91L473.90 298.49L474.10 299.99L474.30 301.29L474.50 302.30L474.50 302.30L474.70 303.09L474.90 303.82L475.10 304.49L475.30 305.11L475.50 305.68L475.70 306.20L475.90 306.68L476.10 307.11L476.30 307.51L476.40 307.70L476.50 307.88L476.70 308.26L476.90 308.63L477.10 308.99L477.30 309.34L477.50 309.66L477.70 309.94L477.90 310.17L478.10 310.35L478.30 310.46L478.50 310.50L478.50 310.50L478.70 310.47L478.90 310.40L479.10 310.27L479.30 310.11L479.50 309.90L479.70 309.67L479.90 309.39L480.10 309.10L480.30 308.77L480.50 308.43L480.70 308.07L480.90 307.70L480.90 307.70L481.10 307.26L481.30 306.69L481.50 306.01L481.70 305.21L481.90 304.33L482.10 303.35L482.30 302.30L482.50 301.18L482.70 300.00L482.70 300.00L482.90 298.55L483.10 296.71L483.30 294.63L483.50 292.46L483.70 290.35L483.90 288.43L484.00 287.60L484.10 286.82L484.30 285.30L484.50 283.83L484.70 282.43L484.90 281.11L485.10 279.87L485.30 278.73L485.50 277.70L485.50 277.70L485.70 276.66L485.90 275.60L486.10 274.71L486.30 274.18L486.40 274.10L486.50 274.21L486.70 274.94L486.90 276.13L487.10 277.47L487.30 278.66L487.50 279.39L487.60 279.50L487.70 279.48L487.90 279.35L488.10 279.11L488.30 278.81L488.50 278.49L488.70 278.17L488.90 277.89L489.10 277.70L489.10 277.70L489.30 277.57L489.50 277.47L489.70 277.38L489.90 277.30L490.10 277.22L490.30 277.14L490.50 277.05L490.70 276.94L490.90 276.80L490.90 276.80L491.10 276.63L491.30 276.44L491.50 276.21L491.70 275.95L491.90 275.65L492.10 275.32L492.30 274.95L492.50 274.55L492.70 274.10L492.70 274.10L492.90 273.40L493.10 272.32L493.30 271.03L493.50 269.68L493.70 268.43L493.90 267.45L494.10 266.88L494.20 266.80L494.30 266.93L494.50 267.76L494.70 268.96L494.90 270.03L495.10 270.50L495.10 270.50L495.30 269.44L495.50 266.97L495.70 264.12L495.90 261.92L496.00 261.40L496.10 261.14L496.30 260.67L496.50 260.27L496.70 259.94L496.90 259.70L497.10 259.55L497.30 259.50L497.30 259.50L497.50 260.62L497.70 263.32L497.90 266.61L498.10 269.51L498.20 270.50L498.30 271.29L498.50 272.86L498.70 274.35L498.90 275.68L499.10 276.74L499.30 277.44L499.50 277.70L499.50 277.70L499.70 277.61L499.90 277.36L500.10 276.96L500.30 276.41L500.50 275.75L500.70 274.97L500.90 274.10L500.90 274.10L501.10 272.52L501.30 269.88L501.50 266.60L501.70 263.10L501.80 261.40L501.90 259.66L502.10 255.81L502.30 251.64L502.50 247.37L502.70 243.20L502.70 243.20L502.90 239.14L503.10 235.08L503.30 231.02L503.50 227.00L503.60 225.00L503.70 223.01L503.90 218.99L504.10 214.97L504.30 210.98L504.50 207.05L504.70 203.21L504.90 199.50L505.00 197.70L505.10 195.94L505.30 192.53L505.50 189.22L505.70 186.00L505.90 182.82L506.10 179.67L506.30 176.51L506.50 173.32L506.60 171.70L506.70 170.08L506.90 166.86L507.10 163.65L507.30 160.45L507.50 157.23L507.70 153.98L507.90 150.68L508.10 147.31L508.20 145.60L508.30 143.87L508.50 140.36L508.70 136.80L508.90 133.19L509.10 129.52L509.30 125.81L509.50 122.04L509.70 118.23L509.80 116.30"/>
<path stroke="#0072bd" stroke-width="0.95" d="M54.50 234.10L54.70 236.40L54.90 238.69L55.10 240.96L55.30 243.22L55.50 245.48L55.70 247.72L55.90 249.94L56.10 252.16L56.30 254.37L56.50 256.56L56.70 258.75L56.90 260.92L57.00 262.00L57.10 263.09L57.30 265.28L57.50 267.49L57.70 269.70L57.90 271.89L58.10 274.05L58.30 276.17L58.50 278.23L58.70 280.21L58.90 282.10L59.00 283.00L59.10 283.89L59.30 285.68L59.50 287.45L59.70 289.18L59.90 290.86L60.10 292.46L60.30 293.97L60.50 295.35L60.70 296.61L60.90 297.70L60.90 297.70L61.10 298.73L61.30 299.77L61.50 300.79L61.70 301.77L61.90 302.66L62.10 303.44L62.30 304.07L62.50 304.53L62.70 304.77L62.80 304.80L62.90 304.79L63.10 304.72L63.30 304.58L63.50 304.39L63.70 304.17L63.90 303.91L64.10 303.64L64.25 303.42L64.30 303.35L64.50 302.99L64.70 302.53L64.90 302.00L65.10 301.40L65.30 300.77L65.50 300.11L65.70 299.43L65.70 299.43L65.90 298.73L66.10 297.95L66.30 297.13L66.50 296.25L66.70 295.34L66.90 294.41L67.10 293.46L67.15 293.22L67.30 292.49L67.50 291.47L67.70 290.41L67.90 289.33L68.10 288.21L68.30 287.09L68.50 285.95L68.60 285.38L68.70 284.81L68.90 283.64L69.10 282.46L69.30 281.25L69.50 280.03L69.70 278.82L69.90 277.60L70.05 276.70L70.10 276.40L70.30 275.19L70.50 273.98L70.70 272.76L70.90 271.55L71.10 270.35L71.30 269.17L71.50 268.02L71.50 268.02L71.70 266.88L71.90 265.75L72.10 264.63L72.30 263.53L72.50 262.45L72.70 261.42L72.90 260.42L72.95 260.18L73.10 259.47L73.30 258.52L73.50 257.60L73.70 256.71L73.90 255.85L74.10 255.05L74.30 254.31L74.40 253.97L74.50 253.63L74.70 252.96L74.90 252.31L75.10 251.69L75.30 251.13L75.50 250.63L75.70 250.22L75.85 249.98L75.90 249.90L76.10 249.63L76.30 249.36L76.50 249.11L76.70 248.91L76.90 248.74L77.10 248.64L77.30 248.60L77.30 248.60L77.50 248.62L77.70 248.67L77.90 248.76L78.10 248.88L78.30 249.02L78.50 249.18L78.70 249.36L78.90 249.55L79.10 249.76L79.30 249.96L79.43 250.10L79.50 250.18L79.70 250.43L79.90 250.74L80.10 251.09L80.30 251.48L80.50 251.90L80.70 252.35L80.90 252.82L81.10 253.31L81.30 253.81L81.50 254.30L81.56 254.45L81.70 254.81L81.90 255.35L82.10 255.93L82.30 256.53L82.50 257.16L82.70 257.81L82.90 258.48L83.10 259.16L83.30 259.86L83.50 260.56L83.69 261.23L83.70 261.27L83.90 261.99L84.10 262.74L84.30 263.51L84.50 264.30L84.70 265.10L84.90 265.92L85.10 266.75L85.30 267.59L85.50 268.43L85.70 269.27L85.82 269.78L85.90 270.12L86.10 270.98L86.30 271.85L86.50 272.73L86.70 273.62L86.90 274.52L87.10 275.42L87.30 276.33L87.50 277.23L87.70 278.13L87.90 279.03L87.95 279.25L88.10 279.92L88.30 280.82L88.50 281.72L88.70 282.62L88.90 283.53L89.10 284.43L89.30 285.32L89.50 286.21L89.70 287.09L89.90 287.96L90.08 288.72L90.10 288.81L90.30 289.65L90.50 290.49L90.70 291.33L90.90 292.16L91.10 292.99L91.30 293.80L91.50 294.60L91.70 295.38L91.90 296.13L92.10 296.87L92.21 297.27L92.30 297.58L92.50 298.29L92.70 298.99L92.90 299.68L93.10 300.36L93.30 301.02L93.50 301.66L93.70 302.28L93.90 302.86L94.10 303.42L94.30 303.95L94.34 304.05L94.50 304.45L94.70 304.94L94.90 305.43L95.10 305.91L95.30 306.37L95.50 306.81L95.70 307.22L95.90 307.59L96.10 307.92L96.30 308.20L96.47 308.40L96.50 308.43L96.70 308.64L96.90 308.85L97.10 309.04L97.30 309.23L97.50 309.40L97.70 309.55L97.90 309.68L98.10 309.78L98.30 309.86L98.50 309.90L98.60 309.90L98.70 309.89L98.90 309.86L99.10 309.79L99.30 309.70L99.50 309.59L99.70 309.47L99.75 309.44L99.90 309.34L100.10 309.16L100.30 308.93L100.50 308.68L100.70 308.40L100.90 308.12L100.90 308.12L101.10 307.83L101.30 307.49L101.50 307.13L101.70 306.76L101.90 306.36L102.05 306.07L102.10 305.97L102.30 305.55L102.50 305.11L102.70 304.65L102.90 304.18L103.10 303.71L103.20 303.47L103.30 303.23L103.50 302.75L103.70 302.24L103.90 301.74L104.10 301.23L104.30 300.73L104.35 300.60L104.50 300.22L104.70 299.72L104.90 299.21L105.10 298.70L105.30 298.21L105.50 297.73L105.50 297.73L105.70 297.25L105.90 296.78L106.10 296.32L106.30 295.87L106.50 295.44L106.65 295.13L106.70 295.03L106.90 294.64L107.10 294.25L107.30 293.88L107.50 293.54L107.70 293.22L107.80 293.08L107.90 292.94L108.10 292.66L108.30 292.39L108.50 292.15L108.70 291.95L108.90 291.79L108.95 291.76L109.10 291.67L109.30 291.55L109.50 291.45L109.70 291.37L109.90 291.32L110.10 291.30L110.10 291.30L110.30 291.32L110.50 291.37L110.70 291.45L110.90 291.55L111.10 291.67L111.30 291.80L111.50 291.94L111.66 292.06L111.70 292.09L111.90 292.27L112.10 292.49L112.30 292.76L112.50 293.05L112.70 293.37L112.90 293.70L113.10 294.04L113.22 294.25L113.30 294.39L113.50 294.76L113.70 295.17L113.90 295.60L114.10 296.04L114.30 296.51L114.50 296.99L114.70 297.47L114.78 297.67L114.90 297.97L115.10 298.48L115.30 299.01L115.50 299.56L115.70 300.13L115.90 300.70L116.10 301.28L116.30 301.86L116.34 301.98L116.50 302.45L116.70 303.04L116.90 303.65L117.10 304.27L117.30 304.89L117.50 305.51L117.70 306.13L117.90 306.75L117.90 306.75L118.10 307.37L118.30 307.99L118.50 308.61L118.70 309.23L118.90 309.85L119.10 310.46L119.30 311.05L119.46 311.52L119.50 311.64L119.70 312.22L119.90 312.80L120.10 313.37L120.30 313.94L120.50 314.49L120.70 315.02L120.90 315.53L121.02 315.83L121.10 316.03L121.30 316.51L121.50 316.99L121.70 317.46L121.90 317.90L122.10 318.33L122.30 318.74L122.50 319.11L122.58 319.25L122.70 319.46L122.90 319.80L123.10 320.13L123.30 320.45L123.50 320.74L123.70 321.01L123.90 321.23L124.10 321.41L124.14 321.44L124.30 321.56L124.50 321.70L124.70 321.83L124.90 321.95L125.10 322.05L125.30 322.13L125.50 322.18L125.70 322.20L125.70 322.20L125.90 322.15L126.10 322.00L126.30 321.75L126.50 321.43L126.70 321.02L126.90 320.55L127.10 320.01L127.30 319.42L127.50 318.78L127.70 318.10L127.90 317.39L128.10 316.65L128.30 315.90L128.30 315.90L128.50 315.01L128.70 313.87L128.90 312.53L129.10 311.00L129.30 309.31L129.50 307.51L129.70 305.61L129.90 303.65L130.10 301.66L130.30 299.67L130.50 297.70L130.50 297.70L130.70 295.66L130.90 293.44L131.10 291.08L131.30 288.62L131.50 286.07L131.70 283.49L131.90 280.90L132.10 278.33L132.30 275.83L132.50 273.41L132.70 271.12L132.90 268.99L133.00 268.00L133.10 267.05L133.30 265.26L133.50 263.58L133.70 262.00L133.90 260.49L134.10 259.03L134.30 257.59L134.50 256.14L134.70 254.67L134.90 253.14L135.10 251.53L135.30 249.82L135.50 247.99L135.70 246.00L135.70 246.00L135.90 243.80L136.10 241.38L136.30 238.77L136.50 236.02L136.70 233.18L136.90 230.28L137.10 227.37L137.30 224.50L137.30 224.50L137.50 221.65L137.70 218.77L137.90 215.86L138.10 212.91L138.30 209.92L138.50 206.86L138.70 203.75L138.90 200.56L139.10 197.30L139.10 197.30L139.30 193.94L139.50 190.48L139.70 186.92L139.90 183.29L140.10 179.58L140.30 175.81L140.50 172.00L140.50 172.00L140.70 167.93L140.90 163.55L141.10 159.05L141.30 154.65L141.50 150.57L141.70 147.01L141.80 145.50L141.90 144.12L142.10 141.51L142.30 139.11L142.50 136.88L142.70 134.79L142.90 132.82L143.10 130.94L143.30 129.12L143.50 127.33L143.70 125.56L143.90 123.77L144.10 121.93L144.30 120.01L144.50 118.00L144.50 118.00L144.70 115.86L144.90 113.62L145.10 111.33L145.30 109.02L145.50 106.74L145.70 104.53L145.90 102.44L146.10 100.51L146.30 98.78L146.40 98.00L146.50 97.27L146.70 95.90L146.90 94.62L147.10 93.42L147.30 92.29L147.50 91.21L147.70 90.16L147.90 89.14L148.10 88.12L148.30 87.09L148.50 86.04L148.60 85.50L148.70 84.95L148.90 83.84L149.10 82.73L149.30 81.62L149.50 80.52L149.70 79.44L149.90 78.39L150.10 77.38L150.30 76.41L150.50 75.50L150.50 75.50L150.70 74.60L150.90 73.68L151.10 72.80L151.30 71.98L151.50 71.27L151.70 70.71L151.80 70.50L151.90 70.32L152.10 69.96L152.30 69.62L152.50 69.31L152.70 69.04L152.90 68.80L153.10 68.61L153.30 68.48L153.50 68.41L153.60 68.40L153.70 68.41L153.90 68.47L154.10 68.59L154.30 68.76L154.50 68.98L154.70 69.22L154.90 69.50L155.10 69.80L155.30 70.12L155.50 70.44L155.70 70.76L155.90 71.08L156.10 71.38L156.30 71.67L156.40 71.80L156.50 71.93L156.70 72.21L156.90 72.49L157.10 72.79L157.30 73.10L157.50 73.40L157.70 73.71L157.90 74.01L158.10 74.30L158.30 74.58L158.50 74.84L158.70 75.09L158.90 75.31L159.10 75.50L159.10 75.50L159.30 75.68L159.50 75.87L159.70 76.05L159.90 76.24L160.10 76.41L160.30 76.58L160.50 76.74L160.70 76.89L160.90 77.01L161.10 77.12L161.30 77.21L161.50 77.26L161.70 77.30L161.80 77.30L161.90 77.30L162.10 77.29L162.30 77.28L162.50 77.26L162.70 77.23L162.90 77.20L163.10 77.16L163.30 77.13L163.50 77.09L163.70 77.04L163.90 77.00L164.10 76.96L164.30 76.92L164.50 76.88L164.70 76.85L164.90 76.81L165.00 76.80L165.10 76.79L165.30 76.76L165.50 76.72L165.70 76.69L165.90 76.66L166.10 76.62L166.30 76.59L166.50 76.56L166.70 76.53L166.90 76.50L167.10 76.47L167.30 76.45L167.50 76.43L167.70 76.42L167.90 76.41L168.10 76.40L168.20 76.40L168.30 76.40L168.50 76.41L168.70 76.43L168.90 76.45L169.10 76.48L169.30 76.52L169.50 76.57L169.70 76.62L169.90 76.67L170.10 76.72L170.30 76.78L170.50 76.84L170.70 76.91L170.90 76.97L171.00 77.00L171.10 77.03L171.30 77.10L171.50 77.18L171.70 77.27L171.90 77.36L172.10 77.46L172.30 77.57L172.50 77.70L172.70 77.83L172.90 77.97L173.10 78.12L173.20 78.20L173.30 78.28L173.50 78.47L173.70 78.68L173.90 78.91L174.10 79.18L174.30 79.49L174.50 79.83L174.70 80.22L174.90 80.66L175.00 80.90L175.10 81.18L175.30 81.94L175.50 82.94L175.70 84.12L175.90 85.44L176.10 86.87L176.30 88.35L176.40 89.10L176.50 89.88L176.70 91.59L176.90 93.52L177.10 95.66L177.30 98.00L177.30 98.00L177.50 100.64L177.70 103.64L177.90 106.93L178.10 110.43L178.30 114.08L178.50 117.81L178.70 121.54L178.90 125.21L179.00 127.00L179.10 128.77L179.30 132.35L179.50 135.95L179.70 139.60L179.90 143.27L180.10 146.98L180.30 150.73L180.50 154.50L180.50 154.50L180.70 158.23L180.90 161.93L181.10 165.68L181.30 169.60L181.50 173.78L181.60 176.00L181.70 178.39L181.90 183.67L182.10 189.27L182.30 194.75L182.40 197.30L182.50 199.74L182.70 204.46L182.90 209.04L183.10 213.51L183.30 217.91L183.50 222.30L183.60 224.50L183.70 226.69L183.90 230.96L184.10 235.19L184.30 239.43L184.50 243.77L184.60 246.00L184.70 248.28L184.90 252.98L185.10 257.78L185.30 262.59L185.50 267.30L185.50 267.30L185.70 271.89L185.90 276.40L186.10 280.88L186.30 285.37L186.50 289.89L186.70 294.50L186.70 294.50L186.90 299.37L187.10 304.44L187.30 309.41L187.50 313.97L187.60 316.00L187.70 317.90L187.90 321.50L188.10 324.78L188.30 327.70L188.40 329.00L188.50 330.21L188.70 332.46L188.90 334.50L189.10 336.34L189.30 338.00L189.30 338.00L189.50 339.56L189.70 341.04L189.90 342.38L190.10 343.56L190.30 344.50L190.30 344.50L190.50 345.28L190.70 345.99L190.90 346.62L191.10 347.17L191.30 347.63L191.50 348.00L191.50 348.00L191.70 348.32L191.90 348.63L192.10 348.92L192.30 349.18L192.50 349.41L192.70 349.59L192.90 349.72L193.10 349.79L193.20 349.80L193.30 349.79L193.50 349.72L193.70 349.58L193.90 349.39L194.10 349.16L194.30 348.89L194.50 348.60L194.70 348.28L194.90 347.96L195.00 347.80L195.10 347.63L195.30 347.25L195.50 346.80L195.70 346.29L195.90 345.72L196.10 345.08L196.30 344.38L196.40 344.00L196.50 343.58L196.70 342.55L196.90 341.33L197.10 339.95L197.30 338.48L197.50 336.98L197.70 335.50L197.70 335.50L197.90 334.01L198.10 332.45L198.30 330.83L198.50 329.17L198.70 327.47L198.90 325.74L199.10 324.00L199.10 324.00L199.30 322.23L199.50 320.40L199.70 318.54L199.90 316.66L200.10 314.77L200.30 312.87L200.50 311.00L200.50 311.00L200.70 309.09L200.90 307.11L201.10 305.11L201.30 303.13L201.50 301.22L201.70 299.41L201.90 297.76L202.00 297.00L202.10 296.27L202.30 294.81L202.50 293.37L202.70 291.96L202.90 290.58L203.10 289.26L203.30 288.00L203.50 286.82L203.70 285.73L203.90 284.74L204.10 283.86L204.30 283.11L204.50 282.50L204.50 282.50L204.70 281.97L204.90 281.44L205.10 280.93L205.30 280.44L205.50 279.96L205.70 279.51L205.90 279.08L206.10 278.68L206.30 278.32L206.50 277.99L206.70 277.69L206.90 277.44L207.10 277.23L207.30 277.07L207.50 276.96L207.70 276.91L207.80 276.90L207.90 276.91L208.10 276.96L208.30 277.06L208.50 277.19L208.70 277.35L208.90 277.52L208.98 277.59L209.10 277.70L209.30 277.96L209.50 278.28L209.70 278.65L209.90 279.04L210.10 279.45L210.16 279.57L210.30 279.87L210.50 280.35L210.70 280.86L210.90 281.40L211.10 281.97L211.30 282.55L211.34 282.67L211.50 283.15L211.70 283.78L211.90 284.44L212.10 285.12L212.30 285.81L212.50 286.50L212.52 286.57L212.70 287.21L212.90 287.93L213.10 288.67L213.30 289.42L213.50 290.16L213.70 290.90L213.70 290.90L213.90 291.64L214.10 292.38L214.30 293.13L214.50 293.87L214.70 294.59L214.88 295.23L214.90 295.30L215.10 295.99L215.30 296.68L215.50 297.36L215.70 298.02L215.90 298.65L216.06 299.13L216.10 299.25L216.30 299.83L216.50 300.40L216.70 300.94L216.90 301.45L217.10 301.93L217.24 302.23L217.30 302.35L217.50 302.76L217.70 303.15L217.90 303.52L218.10 303.84L218.30 304.10L218.42 304.21L218.50 304.28L218.70 304.45L218.90 304.61L219.10 304.74L219.30 304.84L219.50 304.89L219.60 304.90L219.70 304.89L219.90 304.85L220.10 304.78L220.30 304.67L220.50 304.54L220.70 304.39L220.90 304.23L221.10 304.06L221.13 304.03L221.30 303.87L221.50 303.62L221.70 303.32L221.90 302.99L222.10 302.62L222.30 302.24L222.50 301.84L222.66 301.52L222.70 301.44L222.90 301.01L223.10 300.54L223.30 300.05L223.50 299.53L223.70 298.98L223.90 298.43L224.10 297.86L224.19 297.60L224.30 297.29L224.50 296.69L224.70 296.06L224.90 295.42L225.10 294.76L225.30 294.09L225.50 293.42L225.70 292.74L225.72 292.67L225.90 292.05L226.10 291.35L226.30 290.64L226.50 289.92L226.70 289.19L226.90 288.46L227.10 287.74L227.25 287.20L227.30 287.02L227.50 286.30L227.70 285.57L227.90 284.85L228.10 284.12L228.30 283.40L228.50 282.70L228.70 282.00L228.78 281.73L228.90 281.32L229.10 280.65L229.30 279.97L229.50 279.31L229.70 278.66L229.90 278.02L230.10 277.41L230.30 276.82L230.31 276.80L230.50 276.26L230.70 275.69L230.90 275.14L231.10 274.61L231.30 274.10L231.50 273.62L231.70 273.17L231.84 272.88L231.90 272.76L232.10 272.36L232.30 271.97L232.50 271.59L232.70 271.24L232.90 270.92L233.10 270.65L233.30 270.43L233.37 270.37L233.50 270.26L233.70 270.09L233.90 269.94L234.10 269.79L234.30 269.67L234.50 269.58L234.70 269.52L234.90 269.50L234.90 269.50L235.10 269.53L235.30 269.63L235.50 269.77L235.70 269.94L235.90 270.12L235.96 270.18L236.10 270.34L236.30 270.64L236.50 271.01L236.70 271.43L236.90 271.88L237.02 272.15L237.10 272.34L237.30 272.85L237.50 273.42L237.70 274.02L237.90 274.65L238.08 275.23L238.10 275.29L238.30 275.97L238.50 276.68L238.70 277.42L238.90 278.18L239.10 278.95L239.14 279.10L239.30 279.73L239.50 280.53L239.70 281.35L239.90 282.17L240.10 282.99L240.20 283.40L240.30 283.81L240.50 284.63L240.70 285.45L240.90 286.27L241.10 287.07L241.26 287.70L241.30 287.85L241.50 288.62L241.70 289.38L241.90 290.12L242.10 290.83L242.30 291.51L242.32 291.57L242.50 292.15L242.70 292.78L242.90 293.38L243.10 293.95L243.30 294.46L243.38 294.65L243.50 294.92L243.70 295.37L243.90 295.79L244.10 296.16L244.30 296.46L244.44 296.62L244.50 296.68L244.70 296.86L244.90 297.03L245.10 297.17L245.30 297.27L245.50 297.30L245.50 297.30L245.70 297.25L245.90 297.12L246.10 296.91L246.30 296.63L246.50 296.29L246.70 295.88L246.90 295.43L247.10 294.93L247.30 294.39L247.50 293.83L247.70 293.24L247.90 292.63L248.10 292.02L248.30 291.41L248.50 290.80L248.60 290.50L248.70 290.20L248.90 289.56L249.10 288.87L249.30 288.14L249.50 287.37L249.70 286.55L249.90 285.68L250.10 284.77L250.30 283.82L250.50 282.81L250.70 281.76L250.90 280.66L251.10 279.51L251.30 278.32L251.40 277.70L251.50 277.05L251.70 275.59L251.90 273.96L252.10 272.18L252.30 270.30L252.50 268.34L252.70 266.34L252.90 264.34L253.10 262.36L253.20 261.40L253.30 260.44L253.50 258.50L253.70 256.54L253.90 254.54L254.10 252.53L254.30 250.49L254.50 248.43L254.70 246.35L254.90 244.25L255.00 243.20L255.10 242.15L255.30 240.05L255.50 237.94L255.70 235.79L255.90 233.56L256.10 231.22L256.20 230.00L256.30 228.74L256.50 226.07L256.70 223.27L256.90 220.37L257.10 217.43L257.30 214.50L257.30 214.50L257.50 211.56L257.70 208.56L257.90 205.53L258.10 202.47L258.30 199.40L258.50 196.33L258.70 193.28L258.90 190.27L259.10 187.30L259.10 187.30L259.30 184.39L259.50 181.51L259.70 178.66L259.90 175.83L260.10 173.00L260.30 170.17L260.50 167.33L260.70 164.45L260.80 163.00L260.90 161.52L261.10 158.43L261.30 155.31L261.50 152.28L261.70 149.47L261.80 148.20L261.90 147.00L262.10 144.69L262.30 142.51L262.50 140.44L262.70 138.44L262.90 136.52L263.10 134.64L263.30 132.78L263.50 130.93L263.60 130.00L263.70 129.08L263.90 127.27L264.10 125.52L264.30 123.80L264.50 122.11L264.70 120.43L264.90 118.75L265.10 117.06L265.30 115.35L265.50 113.60L265.50 113.60L265.70 111.79L265.90 109.91L266.10 108.00L266.30 106.08L266.50 104.18L266.70 102.32L266.90 100.53L267.10 98.85L267.30 97.30L267.30 97.30L267.50 95.82L267.70 94.39L267.90 93.08L268.10 91.97L268.20 91.50L268.30 91.08L268.50 90.28L268.70 89.54L268.90 88.85L269.10 88.21L269.30 87.61L269.50 87.04L269.70 86.50L269.90 85.99L270.10 85.49L270.30 85.01L270.50 84.54L270.70 84.07L270.90 83.60L270.90 83.60L271.10 83.12L271.30 82.64L271.50 82.16L271.70 81.68L271.90 81.21L272.10 80.76L272.30 80.32L272.50 79.90L272.70 79.52L272.90 79.16L273.10 78.83L273.30 78.55L273.50 78.30L273.60 78.20L273.70 78.10L273.90 77.91L274.10 77.72L274.30 77.53L274.50 77.36L274.70 77.19L274.90 77.03L275.10 76.89L275.30 76.76L275.50 76.65L275.70 76.55L275.90 76.48L276.10 76.43L276.30 76.40L276.40 76.40L276.50 76.40L276.70 76.42L276.90 76.45L277.10 76.50L277.30 76.56L277.50 76.63L277.70 76.72L277.90 76.82L278.10 76.92L278.30 77.04L278.50 77.16L278.70 77.29L278.90 77.42L279.10 77.56L279.30 77.70L279.50 77.84L279.70 77.98L279.90 78.13L280.00 78.20L280.10 78.27L280.30 78.43L280.50 78.61L280.70 78.80L280.90 79.00L281.10 79.22L281.30 79.45L281.50 79.70L281.70 79.95L281.90 80.21L282.10 80.48L282.30 80.76L282.50 81.05L282.70 81.34L282.90 81.63L283.10 81.93L283.30 82.24L283.50 82.55L283.60 82.70L283.70 82.86L283.90 83.18L284.10 83.52L284.30 83.87L284.50 84.23L284.70 84.61L284.90 85.00L285.10 85.39L285.30 85.80L285.50 86.22L285.70 86.65L285.90 87.08L286.10 87.52L286.30 87.97L286.40 88.20L286.50 88.43L286.70 88.90L286.90 89.38L287.10 89.88L287.30 90.40L287.50 90.93L287.70 91.47L287.90 92.03L288.10 92.61L288.30 93.20L288.40 93.50L288.50 93.81L288.70 94.45L288.90 95.11L289.10 95.81L289.30 96.52L289.50 97.25L289.70 97.98L289.90 98.73L290.00 99.10L290.10 99.47L290.30 100.22L290.50 100.98L290.70 101.74L290.90 102.51L291.10 103.29L291.30 104.08L291.50 104.88L291.70 105.69L291.90 106.52L292.10 107.37L292.30 108.23L292.50 109.10L292.70 110.00L292.70 110.00L292.90 110.91L293.10 111.84L293.30 112.78L293.50 113.74L293.70 114.71L293.90 115.70L294.10 116.72L294.30 117.75L294.50 118.81L294.70 119.89L294.90 121.00L295.10 122.14L295.30 123.30L295.50 124.50L295.50 124.50L295.70 125.76L295.90 127.09L296.10 128.49L296.30 129.94L296.50 131.41L296.70 132.90L296.90 134.39L297.10 135.86L297.30 137.30L297.30 137.30L297.50 138.68L297.70 139.99L297.90 141.28L298.10 142.56L298.30 143.88L298.50 145.25L298.70 146.70L298.90 148.28L299.10 150.00L299.10 150.00L299.30 151.98L299.50 154.26L299.70 156.72L299.90 159.26L300.10 161.78L300.20 163.00L300.30 164.19L300.50 166.55L300.70 168.90L300.90 171.24L301.10 173.59L301.30 175.96L301.50 178.37L301.70 180.83L301.90 183.36L302.10 185.96L302.20 187.30L302.30 188.66L302.50 191.47L302.70 194.36L302.90 197.34L303.10 200.37L303.30 203.47L303.50 206.59L303.70 209.75L303.90 212.92L304.00 214.50L304.10 216.11L304.30 219.49L304.50 222.98L304.70 226.47L304.90 229.88L305.10 233.09L305.30 236.00L305.30 236.00L305.50 238.57L305.70 240.91L305.90 243.11L306.10 245.29L306.30 247.55L306.50 250.00L306.50 250.00L306.70 252.69L306.90 255.55L307.10 258.52L307.30 261.51L307.50 264.46L307.70 267.30L307.70 267.30L307.90 270.05L308.10 272.78L308.30 275.48L308.50 278.16L308.70 280.80L308.90 283.40L309.10 285.95L309.30 288.46L309.50 290.90L309.50 290.90L309.70 293.24L309.90 295.49L310.10 297.71L310.30 300.00L310.30 300.00L310.50 302.43L310.70 304.99L310.90 307.61L311.10 310.22L311.30 312.74L311.50 315.10L311.70 317.24L311.80 318.20L311.90 319.12L312.10 320.93L312.30 322.69L312.50 324.36L312.70 325.91L312.90 327.32L313.10 328.55L313.30 329.57L313.40 330.00L313.50 330.39L313.70 331.18L313.90 331.93L314.10 332.65L314.30 333.33L314.50 333.93L314.70 334.46L314.90 334.89L315.10 335.22L315.30 335.43L315.50 335.50L315.50 335.50L315.70 335.45L315.90 335.31L316.10 335.10L316.30 334.84L316.50 334.53L316.70 334.21L316.81 334.02L316.90 333.86L317.10 333.39L317.30 332.81L317.50 332.13L317.70 331.39L317.90 330.61L318.10 329.81L318.12 329.73L318.30 328.98L318.50 328.05L318.70 327.06L318.90 326.01L319.10 324.91L319.30 323.79L319.43 323.05L319.50 322.65L319.70 321.46L319.90 320.21L320.10 318.92L320.30 317.60L320.50 316.25L320.70 314.90L320.74 314.63L320.90 313.54L321.10 312.14L321.30 310.71L321.50 309.27L321.70 307.82L321.90 306.37L322.05 305.30L322.10 304.94L322.30 303.50L322.50 302.06L322.70 300.61L322.90 299.17L323.10 297.76L323.30 296.38L323.36 295.97L323.50 295.02L323.70 293.67L323.90 292.34L324.10 291.03L324.30 289.76L324.50 288.54L324.67 287.55L324.70 287.38L324.90 286.25L325.10 285.14L325.30 284.06L325.50 283.04L325.70 282.08L325.90 281.19L325.98 280.87L326.10 280.39L326.30 279.60L326.50 278.83L326.70 278.12L326.90 277.49L327.10 276.96L327.29 276.58L327.30 276.56L327.50 276.23L327.70 275.91L327.90 275.62L328.10 275.38L328.30 275.21L328.50 275.11L328.60 275.10L328.70 275.10L328.90 275.14L329.10 275.20L329.30 275.28L329.50 275.39L329.70 275.51L329.90 275.64L330.10 275.77L330.20 275.84L330.30 275.92L330.50 276.11L330.70 276.33L330.90 276.59L331.10 276.88L331.30 277.19L331.50 277.51L331.70 277.84L331.80 278.00L331.90 278.17L332.10 278.53L332.30 278.92L332.50 279.33L332.70 279.76L332.90 280.21L333.10 280.67L333.30 281.13L333.40 281.37L333.50 281.60L333.70 282.09L333.90 282.60L334.10 283.13L334.30 283.67L334.50 284.21L334.70 284.77L334.90 285.32L335.00 285.60L335.10 285.88L335.30 286.45L335.50 287.04L335.70 287.62L335.90 288.22L336.10 288.82L336.30 289.41L336.50 290.01L336.60 290.30L336.70 290.59L336.90 291.19L337.10 291.78L337.30 292.38L337.50 292.98L337.70 293.56L337.90 294.15L338.10 294.72L338.20 295.00L338.30 295.28L338.50 295.83L338.70 296.39L338.90 296.93L339.10 297.47L339.30 298.00L339.50 298.51L339.70 299.00L339.80 299.23L339.90 299.47L340.10 299.93L340.30 300.39L340.50 300.84L340.70 301.27L340.90 301.68L341.10 302.07L341.30 302.43L341.40 302.60L341.50 302.76L341.70 303.09L341.90 303.41L342.10 303.72L342.30 304.01L342.50 304.27L342.70 304.49L342.90 304.68L343.00 304.76L343.10 304.83L343.30 304.96L343.50 305.09L343.70 305.21L343.90 305.32L344.10 305.40L344.30 305.46L344.50 305.50L344.60 305.50L344.70 305.49L344.90 305.44L345.10 305.34L345.30 305.21L345.50 305.05L345.70 304.88L345.90 304.69L345.91 304.69L346.10 304.47L346.30 304.18L346.50 303.83L346.70 303.44L346.90 303.02L347.10 302.58L347.22 302.32L347.30 302.14L347.50 301.65L347.70 301.12L347.90 300.56L348.10 299.97L348.30 299.35L348.50 298.73L348.53 298.64L348.70 298.09L348.90 297.42L349.10 296.72L349.30 296.00L349.50 295.26L349.70 294.52L349.84 294.00L349.90 293.77L350.10 293.01L350.30 292.23L350.50 291.44L350.70 290.64L350.90 289.84L351.10 289.05L351.15 288.85L351.30 288.26L351.50 287.46L351.70 286.66L351.90 285.87L352.10 285.08L352.30 284.31L352.46 283.70L352.50 283.56L352.70 282.81L352.90 282.07L353.10 281.34L353.30 280.63L353.50 279.94L353.70 279.29L353.77 279.06L353.90 278.66L354.10 278.04L354.30 277.43L354.50 276.85L354.70 276.31L354.90 275.80L355.08 275.38L355.10 275.34L355.30 274.90L355.50 274.46L355.70 274.06L355.90 273.69L356.10 273.36L356.30 273.11L356.39 273.01L356.50 272.91L356.70 272.73L356.90 272.56L357.10 272.42L357.30 272.30L357.50 272.23L357.70 272.20L357.70 272.20L357.90 272.22L358.10 272.26L358.30 272.33L358.50 272.42L358.70 272.52L358.90 272.63L359.10 272.75L359.21 272.82L359.30 272.88L359.50 273.05L359.70 273.25L359.90 273.48L360.10 273.74L360.30 274.02L360.50 274.30L360.70 274.60L360.72 274.63L360.90 274.90L361.10 275.23L361.30 275.59L361.50 275.96L361.70 276.35L361.90 276.76L362.10 277.17L362.23 277.44L362.30 277.58L362.50 278.01L362.70 278.46L362.90 278.93L363.10 279.41L363.30 279.89L363.50 280.38L363.70 280.88L363.74 280.98L363.90 281.37L364.10 281.88L364.30 282.40L364.50 282.93L364.70 283.45L364.90 283.98L365.10 284.51L365.25 284.90L365.30 285.03L365.50 285.55L365.70 286.08L365.90 286.61L366.10 287.14L366.30 287.66L366.50 288.17L366.70 288.68L366.76 288.82L366.90 289.17L367.10 289.66L367.30 290.15L367.50 290.63L367.70 291.10L367.90 291.56L368.10 292.00L368.27 292.36L368.30 292.43L368.50 292.84L368.70 293.25L368.90 293.65L369.10 294.03L369.30 294.39L369.50 294.74L369.70 295.06L369.78 295.17L369.90 295.35L370.10 295.64L370.30 295.92L370.50 296.19L370.70 296.44L370.90 296.66L371.10 296.84L371.29 296.98L371.30 296.98L371.50 297.11L371.70 297.22L371.90 297.33L372.10 297.43L372.30 297.51L372.50 297.57L372.70 297.60L372.80 297.60L372.90 297.59L373.10 297.51L373.30 297.36L373.50 297.14L373.70 296.85L373.90 296.51L374.10 296.11L374.30 295.66L374.50 295.17L374.70 294.63L374.90 294.07L375.10 293.47L375.30 292.85L375.50 292.21L375.70 291.56L375.90 290.90L375.90 290.90L376.10 290.14L376.30 289.22L376.50 288.16L376.70 286.97L376.90 285.69L377.10 284.32L377.30 282.91L377.50 281.46L377.70 280.00L377.70 280.00L377.90 278.46L378.10 276.78L378.30 274.99L378.50 273.11L378.70 271.18L378.90 269.24L379.10 267.31L379.30 265.42L379.50 263.60L379.50 263.60L379.70 261.90L379.90 260.31L380.10 258.77L380.30 257.26L380.50 255.72L380.70 254.11L380.90 252.39L381.10 250.51L381.30 248.43L381.40 247.30L381.50 246.00L381.70 242.85L381.90 239.52L382.00 238.00L382.10 236.59L382.30 233.88L382.50 231.27L382.70 228.72L382.90 226.18L383.10 223.60L383.10 223.60L383.30 220.97L383.50 218.32L383.70 215.67L383.90 213.01L384.10 210.36L384.30 207.73L384.50 205.12L384.70 202.54L384.90 200.00L384.90 200.00L385.10 197.52L385.30 195.10L385.50 192.73L385.70 190.38L385.90 188.02L386.10 185.65L386.30 183.24L386.50 180.76L386.70 178.20L386.70 178.20L386.90 175.54L387.10 172.80L387.30 169.99L387.50 167.14L387.70 164.28L387.90 161.42L388.00 160.00L388.10 158.56L388.30 155.59L388.50 152.68L388.70 150.00L388.70 150.00L388.90 147.55L389.10 145.19L389.30 142.92L389.50 140.73L389.70 138.62L389.90 136.59L390.10 134.62L390.30 132.72L390.40 131.80L390.50 130.88L390.70 129.05L390.90 127.23L391.10 125.44L391.30 123.69L391.50 122.00L391.70 120.36L391.90 118.81L392.10 117.34L392.30 115.97L392.50 114.72L392.70 113.60L392.70 113.60L392.90 112.57L393.10 111.60L393.30 110.67L393.50 109.79L393.70 108.95L393.90 108.15L394.10 107.39L394.30 106.65L394.50 105.94L394.70 105.26L394.90 104.60L395.10 103.95L395.30 103.32L395.50 102.70L395.50 102.70L395.70 102.09L395.90 101.51L396.10 100.94L396.30 100.39L396.50 99.86L396.70 99.34L396.90 98.83L397.10 98.33L397.30 97.85L397.50 97.37L397.70 96.90L397.90 96.43L398.10 95.96L398.30 95.49L398.50 95.03L398.70 94.56L398.90 94.08L399.10 93.60L399.10 93.60L399.30 93.11L399.50 92.62L399.70 92.13L399.90 91.64L400.10 91.15L400.30 90.67L400.50 90.19L400.70 89.72L400.90 89.25L401.10 88.79L401.30 88.35L401.50 87.92L401.70 87.50L401.80 87.30L401.90 87.10L402.10 86.71L402.30 86.32L402.50 85.93L402.70 85.56L402.90 85.19L403.10 84.82L403.30 84.46L403.50 84.11L403.70 83.76L403.90 83.42L404.10 83.08L404.30 82.75L404.50 82.43L404.70 82.11L404.90 81.80L405.10 81.49L405.30 81.19L405.50 80.90L405.50 80.90L405.70 80.61L405.90 80.33L406.10 80.04L406.30 79.76L406.50 79.49L406.70 79.22L406.90 78.95L407.10 78.69L407.30 78.43L407.50 78.18L407.70 77.93L407.90 77.69L408.10 77.46L408.30 77.23L408.50 77.01L408.70 76.80L408.90 76.60L409.10 76.40L409.10 76.40L409.30 76.20L409.50 76.00L409.70 75.79L409.90 75.58L410.10 75.37L410.30 75.16L410.50 74.96L410.70 74.76L410.90 74.57L411.10 74.39L411.30 74.22L411.50 74.07L411.70 73.94L411.90 73.82L412.10 73.73L412.30 73.66L412.50 73.61L412.70 73.60L412.70 73.60L412.90 73.62L413.10 73.69L413.30 73.80L413.50 73.94L413.70 74.11L413.90 74.31L414.10 74.53L414.30 74.77L414.50 75.03L414.70 75.30L414.90 75.57L415.10 75.85L415.30 76.13L415.50 76.40L415.50 76.40L415.70 76.68L415.90 77.00L416.10 77.34L416.30 77.71L416.50 78.10L416.70 78.50L416.90 78.93L417.10 79.36L417.30 79.80L417.50 80.25L417.70 80.69L417.90 81.14L418.10 81.58L418.20 81.80L418.30 82.02L418.50 82.45L418.70 82.88L418.90 83.32L419.10 83.75L419.30 84.20L419.50 84.65L419.70 85.11L419.90 85.59L420.10 86.07L420.30 86.58L420.50 87.10L420.70 87.64L420.90 88.20L420.90 88.20L421.10 88.80L421.30 89.46L421.50 90.16L421.70 90.89L421.90 91.63L422.10 92.38L422.30 93.11L422.50 93.82L422.70 94.50L422.70 94.50L422.90 95.11L423.10 95.69L423.30 96.27L423.50 96.93L423.60 97.30L423.70 97.69L423.90 98.51L424.10 99.39L424.30 100.33L424.50 101.36L424.70 102.48L424.90 103.71L425.10 105.06L425.30 106.56L425.50 108.20L425.50 108.20L425.70 110.31L425.90 113.05L426.10 116.22L426.30 119.64L426.50 123.10L426.70 126.40L426.70 126.40L426.90 129.48L427.10 132.49L427.30 135.57L427.50 138.86L427.70 142.50L427.80 144.50L427.90 146.74L428.10 152.02L428.30 157.70L428.50 163.00L428.50 163.00L428.70 167.79L428.90 172.43L429.10 176.92L429.30 181.23L429.50 185.33L429.60 187.30L429.70 189.20L429.90 192.81L430.10 196.23L430.30 199.51L430.50 202.73L430.70 205.96L430.90 209.26L431.10 212.70L431.20 214.50L431.30 216.34L431.50 220.09L431.70 223.96L431.90 227.95L432.00 230.00L432.10 232.13L432.30 236.64L432.50 241.11L432.60 243.20L432.70 245.17L432.90 248.94L433.10 252.54L433.30 256.07L433.50 259.60L433.60 261.40L433.70 263.22L433.90 266.86L434.10 270.49L434.30 274.12L434.50 277.72L434.60 279.50L434.70 281.31L434.90 285.02L435.10 288.75L435.30 292.31L435.50 295.55L435.60 297.00L435.70 298.35L435.90 300.85L436.10 303.15L436.30 305.32L436.50 307.41L436.70 309.50L436.70 309.50L436.90 311.59L437.10 313.63L437.30 315.64L437.50 317.60L437.70 319.52L437.90 321.39L438.10 323.21L438.20 324.10L438.30 324.99L438.50 326.77L438.70 328.55L438.90 330.31L439.10 332.02L439.30 333.67L439.50 335.23L439.70 336.68L439.90 338.00L440.00 338.60L440.10 339.18L440.30 340.33L440.50 341.44L440.70 342.48L440.90 343.46L441.10 344.34L441.30 345.10L441.50 345.74L441.60 346.00L441.70 346.24L441.90 346.73L442.10 347.19L442.30 347.61L442.50 347.97L442.70 348.25L442.90 348.43L443.10 348.50L443.10 348.50L443.30 348.46L443.50 348.33L443.70 348.14L443.90 347.90L444.10 347.62L444.30 347.31L444.48 347.03L444.50 346.99L444.70 346.60L444.90 346.09L445.10 345.49L445.30 344.82L445.50 344.10L445.70 343.36L445.86 342.75L445.90 342.60L446.10 341.78L446.30 340.90L446.50 339.95L446.70 338.94L446.90 337.91L447.10 336.84L447.24 336.09L447.30 335.77L447.50 334.64L447.70 333.47L447.90 332.26L448.10 331.01L448.30 329.75L448.50 328.47L448.62 327.70L448.70 327.19L448.90 325.88L449.10 324.54L449.30 323.18L449.50 321.81L449.70 320.44L449.90 319.08L450.00 318.40L450.10 317.72L450.30 316.36L450.50 314.99L450.70 313.62L450.90 312.26L451.10 310.92L451.30 309.61L451.38 309.10L451.50 308.33L451.70 307.05L451.90 305.79L452.10 304.54L452.30 303.33L452.50 302.16L452.70 301.03L452.76 300.71L452.90 299.96L453.10 298.89L453.30 297.86L453.50 296.85L453.70 295.90L453.90 295.02L454.10 294.20L454.14 294.05L454.30 293.44L454.50 292.70L454.70 291.98L454.90 291.31L455.10 290.71L455.30 290.20L455.50 289.81L455.52 289.77L455.70 289.49L455.90 289.18L456.10 288.90L456.30 288.66L456.50 288.47L456.70 288.34L456.90 288.30L456.90 288.30L457.10 288.32L457.30 288.37L457.50 288.45L457.70 288.55L457.90 288.66L457.94 288.68L458.10 288.78L458.30 288.96L458.50 289.17L458.70 289.41L458.90 289.67L458.98 289.77L459.10 289.93L459.30 290.23L459.50 290.55L459.70 290.90L459.90 291.26L460.02 291.47L460.10 291.62L460.30 292.01L460.50 292.42L460.70 292.84L460.90 293.27L461.06 293.62L461.10 293.71L461.30 294.15L461.50 294.61L461.70 295.07L461.90 295.54L462.10 296.00L462.10 296.00L462.30 296.46L462.50 296.93L462.70 297.39L462.90 297.85L463.10 298.29L463.14 298.38L463.30 298.73L463.50 299.16L463.70 299.58L463.90 299.99L464.10 300.38L464.18 300.53L464.30 300.74L464.50 301.10L464.70 301.45L464.90 301.77L465.10 302.07L465.22 302.23L465.30 302.33L465.50 302.59L465.70 302.83L465.90 303.04L466.10 303.22L466.26 303.32L466.30 303.34L466.50 303.45L466.70 303.55L466.90 303.63L467.10 303.68L467.30 303.70L467.30 303.70L467.50 303.67L467.70 303.59L467.90 303.46L468.10 303.31L468.30 303.12L468.50 302.92L468.70 302.71L468.70 302.71L468.90 302.46L469.10 302.13L469.30 301.74L469.50 301.30L469.70 300.83L469.90 300.33L470.10 299.83L470.10 299.83L470.30 299.30L470.50 298.73L470.70 298.10L470.90 297.45L471.10 296.76L471.30 296.06L471.50 295.35L471.50 295.35L471.70 294.62L471.90 293.85L472.10 293.05L472.30 292.24L472.50 291.40L472.70 290.56L472.90 289.71L472.90 289.71L473.10 288.85L473.30 287.97L473.50 287.07L473.70 286.17L473.90 285.26L474.10 284.35L474.30 283.45L474.30 283.45L474.50 282.55L474.70 281.64L474.90 280.73L475.10 279.83L475.30 278.93L475.50 278.05L475.70 277.19L475.70 277.19L475.90 276.34L476.10 275.50L476.30 274.66L476.50 273.85L476.70 273.05L476.90 272.28L477.10 271.55L477.10 271.55L477.30 270.84L477.50 270.14L477.70 269.45L477.90 268.80L478.10 268.17L478.30 267.60L478.50 267.07L478.50 267.07L478.70 266.57L478.90 266.07L479.10 265.60L479.30 265.16L479.50 264.77L479.70 264.44L479.90 264.19L479.90 264.19L480.10 263.98L480.30 263.78L480.50 263.59L480.70 263.44L480.90 263.31L481.10 263.23L481.30 263.20L481.30 263.20L481.50 263.22L481.70 263.27L481.90 263.36L482.10 263.47L482.30 263.60L482.50 263.74L482.70 263.89L482.84 264.00L482.90 264.05L483.10 264.25L483.30 264.50L483.50 264.79L483.70 265.11L483.90 265.46L484.10 265.82L484.30 266.18L484.38 266.33L484.50 266.56L484.70 266.97L484.90 267.41L485.10 267.87L485.30 268.36L485.50 268.87L485.70 269.38L485.90 269.91L485.92 269.96L486.10 270.44L486.30 271.00L486.50 271.58L486.70 272.18L486.90 272.79L487.10 273.41L487.30 274.03L487.46 274.53L487.50 274.66L487.70 275.29L487.90 275.94L488.10 276.60L488.30 277.27L488.50 277.94L488.70 278.60L488.90 279.27L489.00 279.60L489.10 279.93L489.30 280.60L489.50 281.26L489.70 281.93L489.90 282.60L490.10 283.26L490.30 283.91L490.50 284.54L490.54 284.67L490.70 285.17L490.90 285.79L491.10 286.41L491.30 287.02L491.50 287.62L491.70 288.20L491.90 288.76L492.08 289.24L492.10 289.29L492.30 289.82L492.50 290.33L492.70 290.84L492.90 291.33L493.10 291.79L493.30 292.23L493.50 292.64L493.62 292.87L493.70 293.02L493.90 293.38L494.10 293.74L494.30 294.09L494.50 294.41L494.70 294.70L494.90 294.95L495.10 295.15L495.16 295.20L495.30 295.31L495.50 295.46L495.70 295.60L495.90 295.73L496.10 295.84L496.30 295.93L496.50 295.98L496.70 296.00L496.70 296.00L496.90 295.97L497.10 295.89L497.30 295.75L497.50 295.57L497.70 295.35L497.90 295.09L498.10 294.80L498.30 294.49L498.50 294.16L498.70 293.81L498.90 293.46L499.10 293.10L499.10 293.10L499.30 292.71L499.50 292.25L499.70 291.73L499.90 291.16L500.10 290.53L500.30 289.84L500.50 289.10L500.70 288.31L500.90 287.48L501.10 286.60L501.30 285.68L501.50 284.71L501.70 283.71L501.80 283.20L501.90 282.65L502.10 281.39L502.30 279.93L502.50 278.33L502.70 276.61L502.90 274.82L503.10 273.01L503.30 271.20L503.50 269.45L503.60 268.60L503.70 267.77L503.90 266.11L504.10 264.45L504.30 262.78L504.50 261.10L504.70 259.40L504.90 257.68L505.10 255.92L505.30 254.13L505.50 252.30L505.50 252.30L505.70 250.41L505.90 248.45L506.10 246.45L506.30 244.41L506.50 242.35L506.70 240.28L506.90 238.20L507.10 236.14L507.30 234.10L507.30 234.10L507.50 232.20L507.70 230.39L507.90 228.49L508.10 226.28L508.20 225.00L508.30 223.58L508.50 220.30L508.70 216.49L508.90 212.19L509.10 207.43L509.30 202.26L509.50 196.70"/>
<path stroke="#0000ff" stroke-width="1" d="M61.0 300.9l5.2 5.2M61.0 306.1l5.2 -5.2M74.7 246.0l5.2 5.2M74.7 251.2l5.2 -5.2M95.9 307.5l5.2 5.2M95.9 312.7l5.2 -5.2M107.4 288.8l5.2 5.2M107.4 294.0l5.2 -5.2M122.9 319.7l5.2 5.2M122.9 324.9l5.2 -5.2M151.0 66.4l5.2 5.2M151.0 71.6l5.2 -5.2M160.1 75.3l5.2 5.2M160.1 80.5l5.2 -5.2M163.0 73.8l5.2 5.2M163.0 79.0l5.2 -5.2M166.1 74.0l5.2 5.2M166.1 79.2l5.2 -5.2M170.1 76.0l5.2 5.2M170.1 81.2l5.2 -5.2M170.5 76.0l5.2 5.2M170.5 81.2l5.2 -5.2M190.5 349.3l5.2 5.2M190.5 354.5l5.2 -5.2M205.2 274.3l5.2 5.2M205.2 279.5l5.2 -5.2M217.0 302.3l5.2 5.2M217.0 307.5l5.2 -5.2M232.3 266.8l5.2 5.2M232.3 272.0l5.2 -5.2M242.9 294.7l5.2 5.2M242.9 299.9l5.2 -5.2M273.8 73.8l5.2 5.2M273.8 79.0l5.2 -5.2M312.9 334.7l5.2 5.2M312.9 339.9l5.2 -5.2M326.0 272.5l5.2 5.2M326.0 277.7l5.2 -5.2M342.0 303.0l5.2 5.2M342.0 308.2l5.2 -5.2M355.1 269.6l5.2 5.2M355.1 274.8l5.2 -5.2M368.8 293.8l5.2 5.2M368.8 299.0l5.2 -5.2M371.5 295.2l5.2 5.2M371.5 300.4l5.2 -5.2M410.1 71.0l5.2 5.2M410.1 76.2l5.2 -5.2M440.5 347.3l5.2 5.2M440.5 352.5l5.2 -5.2M454.3 285.7l5.2 5.2M454.3 290.9l5.2 -5.2M464.7 301.1l5.2 5.2M464.7 306.3l5.2 -5.2M478.7 260.6l5.2 5.2M478.7 265.8l5.2 -5.2M493.9 294.4l5.2 5.2M493.9 299.6l5.2 -5.2"/>
</g>
<g stroke="#262626" stroke-width="1" fill="none">
<rect x="54.5" y="3.5" width="464.0" height="366.2"/>
<path d="M54.5 369.7v-4M54.5 3.5v4M129.7 369.7v-4M129.7 3.5v4M205.7 369.7v-4M205.7 3.5v4M281.5 369.7v-4M281.5 3.5v4M357.6 369.7v-4M357.6 3.5v4M433.3 369.7v-4M433.3 3.5v4M509.5 369.7v-4M509.5 3.5v4M54.5 369.7h4M518.5 369.7h-4M54.5 332.4h4M518.5 332.4h-4M54.5 295.0h4M518.5 295.0h-4M54.5 257.7h4M518.5 257.7h-4M54.5 220.3h4M518.5 220.3h-4M54.5 183.0h4M518.5 183.0h-4M54.5 145.7h4M518.5 145.7h-4M54.5 108.3h4M518.5 108.3h-4M54.5 71.0h4M518.5 71.0h-4M54.5 33.7h4M518.5 33.7h-4"/>
</g>
<g font-size="14.2px">
<text x="54.5" y="391" text-anchor="middle">-6</text>
<text x="129.7" y="391" text-anchor="middle">-5</text>
<text x="205.7" y="391" text-anchor="middle">-4</text>
<text x="281.5" y="391" text-anchor="middle">-3</text>
<text x="357.6" y="391" text-anchor="middle">-2</text>
<text x="433.3" y="391" text-anchor="middle">-1</text>
<text x="508.3" y="391" text-anchor="middle">present time</text>
<text x="48.1" y="376.1" text-anchor="end">-2</text>
<text x="48.1" y="338.8" text-anchor="end">-1.5</text>
<text x="48.1" y="301.4" text-anchor="end">-1</text>
<text x="48.1" y="264.1" text-anchor="end">-0.5</text>
<text x="48.1" y="226.8" text-anchor="end">0</text>
<text x="48.1" y="189.4" text-anchor="end">0.5</text>
<text x="48.1" y="152.1" text-anchor="end">1</text>
<text x="48.1" y="114.7" text-anchor="end">1.5</text>
<text x="48.1" y="77.4" text-anchor="end">2</text>
<text x="48.1" y="40.1" text-anchor="end">2.5</text>
</g>
<text x="286.8" y="411.9" text-anchor="middle" font-size="15.7px">time[s]</text>
<text transform="translate(15,187.5) rotate(-90)" text-anchor="middle" font-size="15.7px">amplitude</text>
<rect x="375.5" y="14.5" width="132" height="39" fill="#fff" stroke="#262626" stroke-width="1" shape-rendering="crispEdges"/>
<path d="M380 25.2H423" stroke="#d95319" stroke-width="0.9"/>
<path d="M380 43.4H423" stroke="#0072bd" stroke-width="0.9"/>
<g font-size="12.9px"><text x="425.8" y="30.7" style="fill:#000">Driving signal</text><text x="425.8" y="48.7" style="fill:#000">Estimation</text></g>
</svg></body></html>
